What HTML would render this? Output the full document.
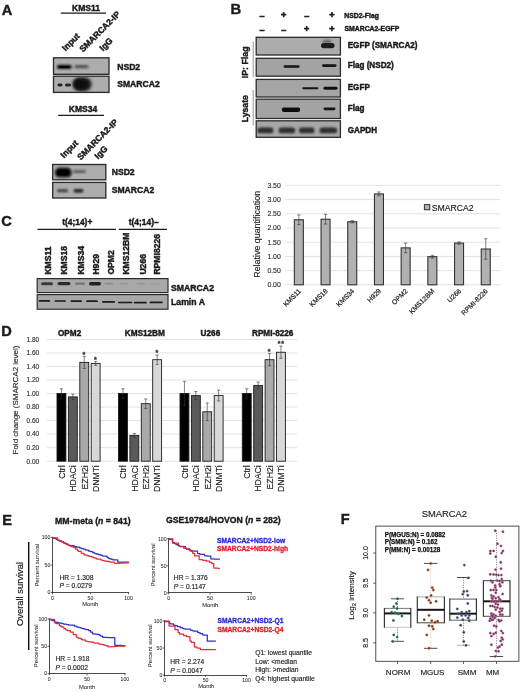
<!DOCTYPE html>
<html lang="en"><head><meta charset="utf-8"><title>Figure</title>
<style>html,body{margin:0;padding:0;background:#fff}svg{display:block;filter:blur(0.35px)}text{font-family:'Liberation Sans', sans-serif}</style></head><body>
<svg width="520" height="692" viewBox="0 0 520 692" font-family='Liberation Sans, sans-serif'>
<defs>
<filter id="b1" x="-30%" y="-100%" width="160%" height="300%"><feGaussianBlur stdDeviation="1.0"/></filter>
<filter id="b2" x="-30%" y="-100%" width="160%" height="300%"><feGaussianBlur stdDeviation="1.6"/></filter>
<filter id="b05" x="-30%" y="-100%" width="160%" height="300%"><feGaussianBlur stdDeviation="0.6"/></filter>
<filter id="soft" x="-5%" y="-5%" width="110%" height="110%"><feGaussianBlur stdDeviation="0.35"/></filter>
<linearGradient id="g1" x1="0" y1="0" x2="1" y2="0"><stop offset="0" stop-color="#b0b0b0"/><stop offset="1" stop-color="#c4c4c4"/></linearGradient>
<linearGradient id="g2" x1="0" y1="0" x2="1" y2="0"><stop offset="0" stop-color="#a8a8a8"/><stop offset="1" stop-color="#bdbdbd"/></linearGradient>
</defs>
<rect x="0.00" y="0.00" width="520.00" height="692.00" fill="#fff" stroke="none" stroke-width="1"/>
<text x="1.80" y="14.53" font-size="14.6" font-weight="bold" text-anchor="start" fill="#1a1a1a" stroke="#1a1a1a" stroke-width="0.42">A</text>
<text x="86.00" y="10.84" font-size="8.5" font-weight="bold" text-anchor="middle" fill="#1a1a1a" stroke="#1a1a1a" stroke-width="0.42">KMS11</text>
<line x1="60.80" y1="13.20" x2="106.00" y2="13.20" stroke="#1a1a1a" stroke-width="1.3"/>
<text x="0.00" y="0.00" font-size="8.6" font-weight="bold" text-anchor="start" fill="#1a1a1a" stroke="#1a1a1a" stroke-width="0.42" transform="translate(65.50 51.50) rotate(-45)">Input</text>
<text x="0.00" y="0.00" font-size="8.6" font-weight="bold" text-anchor="start" fill="#1a1a1a" stroke="#1a1a1a" stroke-width="0.42" transform="translate(83.00 52.50) rotate(-45)">SMARCA2-IP</text>
<text x="0.00" y="0.00" font-size="8.6" font-weight="bold" text-anchor="start" fill="#1a1a1a" stroke="#1a1a1a" stroke-width="0.42" transform="translate(103.00 51.50) rotate(-45)">IgG</text>
<rect x="53.50" y="57.80" width="55.50" height="16.50" fill="#adadad" stroke="#2c2c2c" stroke-width="1.35"/>
<rect x="53.50" y="76.20" width="55.50" height="16.20" fill="#adadad" stroke="#2c2c2c" stroke-width="1.35"/>
<clipPath id="cA1"><rect x="54" y="58.3" width="54.5" height="15.5"/></clipPath><g clip-path="url(#cA1)">
<rect x="56.80" y="64.70" width="15.00" height="4.40" rx="2.20" fill="#141414" opacity="1" filter="url(#b1)"/>
<rect x="59.30" y="65.90" width="10.00" height="2.20" rx="1.10" fill="#000" opacity="0.9" filter="url(#b05)"/>
<rect x="74.50" y="65.10" width="14.00" height="3.20" rx="1.60" fill="#333" opacity="0.75" filter="url(#b1)"/>
</g>
<clipPath id="cA2"><rect x="54" y="76.7" width="54.5" height="15.2"/></clipPath><g clip-path="url(#cA2)">
<rect x="57.50" y="83.60" width="5.00" height="2.80" rx="1.40" fill="#111" opacity="0.85" filter="url(#b05)"/>
<rect x="65.00" y="83.50" width="6.00" height="3.00" rx="1.50" fill="#111" opacity="0.85" filter="url(#b05)"/>
<rect x="72.50" y="77.20" width="19.00" height="14.00" rx="7.00" fill="#1a1a1a" opacity="1" filter="url(#b2)"/>
<rect x="74.00" y="79.20" width="13.00" height="10.00" rx="5.00" fill="#0a0a0a" opacity="1" filter="url(#b1)"/>
</g>
<text x="117.20" y="69.58" font-size="8.6" font-weight="bold" text-anchor="start" fill="#1a1a1a" stroke="#1a1a1a" stroke-width="0.42">NSD2</text>
<text x="117.20" y="87.38" font-size="8.6" font-weight="bold" text-anchor="start" fill="#1a1a1a" stroke="#1a1a1a" stroke-width="0.42">SMARCA2</text>
<text x="83.00" y="112.34" font-size="8.5" font-weight="bold" text-anchor="middle" fill="#1a1a1a" stroke="#1a1a1a" stroke-width="0.42">KMS34</text>
<line x1="58.20" y1="115.40" x2="104.00" y2="115.40" stroke="#1a1a1a" stroke-width="1.3"/>
<text x="0.00" y="0.00" font-size="8.6" font-weight="bold" text-anchor="start" fill="#1a1a1a" stroke="#1a1a1a" stroke-width="0.42" transform="translate(64.00 158.50) rotate(-45)">Input</text>
<text x="0.00" y="0.00" font-size="8.6" font-weight="bold" text-anchor="start" fill="#1a1a1a" stroke="#1a1a1a" stroke-width="0.42" transform="translate(80.70 160.50) rotate(-45)">SMARCA2-IP</text>
<text x="0.00" y="0.00" font-size="8.6" font-weight="bold" text-anchor="start" fill="#1a1a1a" stroke="#1a1a1a" stroke-width="0.42" transform="translate(98.00 159.50) rotate(-45)">IgG</text>
<rect x="52.70" y="164.50" width="53.10" height="15.30" fill="#adadad" stroke="#2c2c2c" stroke-width="1.35"/>
<rect x="52.70" y="182.40" width="53.10" height="15.60" fill="#adadad" stroke="#2c2c2c" stroke-width="1.35"/>
<clipPath id="cA3"><rect x="53.2" y="165" width="52.1" height="14.3"/></clipPath><g clip-path="url(#cA3)">
<rect x="54.80" y="167.60" width="17.00" height="10.00" rx="5.00" fill="#151515" opacity="1" filter="url(#b1)"/>
<rect x="57.00" y="169.60" width="12.00" height="6.00" rx="3.00" fill="#050505" opacity="1" filter="url(#b05)"/>
<rect x="73.00" y="170.20" width="13.00" height="2.80" rx="1.40" fill="#333" opacity="0.7" filter="url(#b1)"/>
</g>
<clipPath id="cA4"><rect x="53.2" y="182.9" width="52.1" height="14.6"/></clipPath><g clip-path="url(#cA4)">
<rect x="57.00" y="189.20" width="11.00" height="3.00" rx="1.50" fill="#222" opacity="0.8" filter="url(#b1)"/>
<rect x="73.50" y="189.00" width="10.00" height="3.40" rx="1.70" fill="#1a1a1a" opacity="0.95" filter="url(#b1)"/>
</g>
<text x="111.70" y="174.98" font-size="8.6" font-weight="bold" text-anchor="start" fill="#1a1a1a" stroke="#1a1a1a" stroke-width="0.42">NSD2</text>
<text x="111.70" y="193.28" font-size="8.6" font-weight="bold" text-anchor="start" fill="#1a1a1a" stroke="#1a1a1a" stroke-width="0.42">SMARCA2</text>
<text x="230.60" y="13.50" font-size="14.8" font-weight="bold" text-anchor="start" fill="#1a1a1a" stroke="#1a1a1a" stroke-width="0.42">B</text>
<text x="261.90" y="19.42" font-size="9" font-weight="bold" text-anchor="middle" fill="#1a1a1a" stroke="#1a1a1a" stroke-width="0.6">–</text>
<text x="283.70" y="18.32" font-size="9" font-weight="bold" text-anchor="middle" fill="#1a1a1a" stroke="#1a1a1a" stroke-width="0.6">+</text>
<text x="306.70" y="19.42" font-size="9" font-weight="bold" text-anchor="middle" fill="#1a1a1a" stroke="#1a1a1a" stroke-width="0.6">–</text>
<text x="332.00" y="18.32" font-size="9" font-weight="bold" text-anchor="middle" fill="#1a1a1a" stroke="#1a1a1a" stroke-width="0.6">+</text>
<text x="261.90" y="32.62" font-size="9" font-weight="bold" text-anchor="middle" fill="#1a1a1a" stroke="#1a1a1a" stroke-width="0.6">–</text>
<text x="283.70" y="32.62" font-size="9" font-weight="bold" text-anchor="middle" fill="#1a1a1a" stroke="#1a1a1a" stroke-width="0.6">–</text>
<text x="306.70" y="31.72" font-size="9" font-weight="bold" text-anchor="middle" fill="#1a1a1a" stroke="#1a1a1a" stroke-width="0.6">+</text>
<text x="332.00" y="31.72" font-size="9" font-weight="bold" text-anchor="middle" fill="#1a1a1a" stroke="#1a1a1a" stroke-width="0.6">+</text>
<text x="344.30" y="18.05" font-size="6.85" font-weight="bold" text-anchor="start" fill="#1a1a1a" stroke="#1a1a1a" stroke-width="0.42">NSD2-Flag</text>
<text x="344.50" y="30.75" font-size="6.85" font-weight="bold" text-anchor="start" fill="#1a1a1a" stroke="#1a1a1a" stroke-width="0.42">SMARCA2-EGFP</text>
<rect x="256.20" y="37.30" width="84.20" height="17.70" fill="#acacac" stroke="#2c2c2c" stroke-width="1.3"/>
<rect x="256.20" y="58.30" width="84.20" height="17.90" fill="#a3a3a3" stroke="#2c2c2c" stroke-width="1.3"/>
<rect x="256.20" y="79.40" width="84.20" height="17.60" fill="#a5a5a5" stroke="#2c2c2c" stroke-width="1.3"/>
<rect x="256.20" y="99.20" width="84.20" height="19.30" fill="#a3a3a3" stroke="#2c2c2c" stroke-width="1.3"/>
<rect x="256.20" y="120.80" width="84.20" height="16.50" fill="#a7a7a7" stroke="#2c2c2c" stroke-width="1.3"/>
<clipPath id="cB"><path d="M256.8 37.9h83v16.5h-83z M256.8 58.9h83v16.7h-83z M256.8 80h83v16.4h-83z M256.8 99.8h83v18.1h-83z M256.8 121.4h83v15.3h-83z"/></clipPath><g clip-path="url(#cB)">
<rect x="321.05" y="43.00" width="13.50" height="5.20" rx="2.60" fill="#1a1a1a" opacity="1" filter="url(#b05)"/>
<rect x="322.50" y="39.75" width="9.00" height="3.50" rx="1.75" fill="#333" opacity="0.55" filter="url(#b1)"/>
<rect x="283.60" y="65.25" width="16.00" height="2.50" rx="1.25" fill="#141414" opacity="1" filter="url(#b05)"/>
<rect x="322.05" y="64.25" width="14.50" height="2.70" rx="1.35" fill="#141414" opacity="1" filter="url(#b05)"/>
<rect x="302.30" y="87.25" width="16.00" height="2.10" rx="1.05" fill="#141414" opacity="1" filter="url(#b05)"/>
<rect x="323.50" y="86.85" width="14.00" height="2.90" rx="1.45" fill="#101010" opacity="1" filter="url(#b05)"/>
<rect x="281.75" y="107.60" width="18.50" height="4.40" rx="2.20" fill="#111" opacity="1" filter="url(#b05)"/>
<rect x="323.50" y="107.40" width="12.00" height="2.80" rx="1.40" fill="#141414" opacity="1" filter="url(#b05)"/>
<rect x="257.40" y="127.50" width="16.00" height="5.80" rx="2.90" fill="#262626" opacity="0.95" filter="url(#b1)"/>
<rect x="278.65" y="127.50" width="16.50" height="5.80" rx="2.90" fill="#262626" opacity="0.95" filter="url(#b1)"/>
<rect x="298.95" y="127.50" width="15.50" height="5.80" rx="2.90" fill="#262626" opacity="0.95" filter="url(#b1)"/>
<rect x="319.55" y="127.50" width="17.50" height="5.80" rx="2.90" fill="#262626" opacity="0.95" filter="url(#b1)"/>
</g>
<text x="347.70" y="47.52" font-size="8.15" font-weight="bold" text-anchor="start" fill="#1a1a1a" stroke="#1a1a1a" stroke-width="0.42">EGFP (SMARCA2)</text>
<text x="347.70" y="68.12" font-size="8.15" font-weight="bold" text-anchor="start" fill="#1a1a1a" stroke="#1a1a1a" stroke-width="0.42">Flag (NSD2)</text>
<text x="347.70" y="90.02" font-size="8.15" font-weight="bold" text-anchor="start" fill="#1a1a1a" stroke="#1a1a1a" stroke-width="0.42">EGFP</text>
<text x="347.70" y="110.92" font-size="8.15" font-weight="bold" text-anchor="start" fill="#1a1a1a" stroke="#1a1a1a" stroke-width="0.42">Flag</text>
<text x="347.70" y="132.92" font-size="8.15" font-weight="bold" text-anchor="start" fill="#1a1a1a" stroke="#1a1a1a" stroke-width="0.42">GAPDH</text>
<text x="0.00" y="3.15" font-size="8.8" font-weight="bold" text-anchor="middle" fill="#1a1a1a" stroke="#1a1a1a" stroke-width="0.42" transform="translate(245.20 62.30) rotate(-90)">IP: Flag</text>
<text x="0.00" y="3.11" font-size="8.7" font-weight="bold" text-anchor="middle" fill="#1a1a1a" stroke="#1a1a1a" stroke-width="0.42" transform="translate(245.20 108.70) rotate(-90)">Lysate</text>
<line x1="253.20" y1="41.50" x2="253.20" y2="76.90" stroke="#777" stroke-width="0.8"/>
<line x1="253.20" y1="90.00" x2="253.20" y2="125.40" stroke="#777" stroke-width="0.8"/>
<line x1="285.50" y1="284.80" x2="500.00" y2="284.80" stroke="#d4d4d4" stroke-width="0.7"/>
<text x="280.80" y="287.27" font-size="6.9" font-weight="normal" text-anchor="end" fill="#333" stroke="#333" stroke-width="0.15">0.00</text>
<line x1="285.50" y1="270.60" x2="500.00" y2="270.60" stroke="#d4d4d4" stroke-width="0.7"/>
<text x="280.80" y="273.07" font-size="6.9" font-weight="normal" text-anchor="end" fill="#333" stroke="#333" stroke-width="0.15">0.50</text>
<line x1="285.50" y1="256.40" x2="500.00" y2="256.40" stroke="#d4d4d4" stroke-width="0.7"/>
<text x="280.80" y="258.87" font-size="6.9" font-weight="normal" text-anchor="end" fill="#333" stroke="#333" stroke-width="0.15">1.00</text>
<line x1="285.50" y1="242.20" x2="500.00" y2="242.20" stroke="#d4d4d4" stroke-width="0.7"/>
<text x="280.80" y="244.67" font-size="6.9" font-weight="normal" text-anchor="end" fill="#333" stroke="#333" stroke-width="0.15">1.50</text>
<line x1="285.50" y1="228.00" x2="500.00" y2="228.00" stroke="#d4d4d4" stroke-width="0.7"/>
<text x="280.80" y="230.47" font-size="6.9" font-weight="normal" text-anchor="end" fill="#333" stroke="#333" stroke-width="0.15">2.00</text>
<line x1="285.50" y1="213.80" x2="500.00" y2="213.80" stroke="#d4d4d4" stroke-width="0.7"/>
<text x="280.80" y="216.27" font-size="6.9" font-weight="normal" text-anchor="end" fill="#333" stroke="#333" stroke-width="0.15">2.50</text>
<line x1="285.50" y1="199.60" x2="500.00" y2="199.60" stroke="#d4d4d4" stroke-width="0.7"/>
<text x="280.80" y="202.07" font-size="6.9" font-weight="normal" text-anchor="end" fill="#333" stroke="#333" stroke-width="0.15">3.00</text>
<line x1="285.50" y1="185.40" x2="500.00" y2="185.40" stroke="#d4d4d4" stroke-width="0.7"/>
<text x="280.80" y="187.87" font-size="6.9" font-weight="normal" text-anchor="end" fill="#333" stroke="#333" stroke-width="0.15">3.50</text>
<text x="0.00" y="3.19" font-size="8.9" font-weight="normal" text-anchor="middle" fill="#222" stroke="#222" stroke-width="0.15" transform="translate(257.00 234.30) rotate(-90)">Relative quantification</text>
<rect x="294.35" y="219.76" width="9.00" height="65.04" fill="#b1b1b1" stroke="#333" stroke-width="1.1"/>
<line x1="298.85" y1="214.94" x2="298.85" y2="224.59" stroke="#333" stroke-width="0.6"/>
<line x1="297.15" y1="214.94" x2="300.55" y2="214.94" stroke="#333" stroke-width="0.6"/>
<line x1="297.15" y1="224.59" x2="300.55" y2="224.59" stroke="#333" stroke-width="0.6"/>
<text x="0.00" y="2.43" font-size="6.8" font-weight="normal" text-anchor="end" fill="#222" stroke="#222" stroke-width="0.2" transform="translate(299.65 289.80) rotate(-45)">KMS11</text>
<rect x="321.05" y="219.20" width="9.00" height="65.60" fill="#b1b1b1" stroke="#333" stroke-width="1.1"/>
<line x1="325.55" y1="214.37" x2="325.55" y2="224.02" stroke="#333" stroke-width="0.6"/>
<line x1="323.85" y1="214.37" x2="327.25" y2="214.37" stroke="#333" stroke-width="0.6"/>
<line x1="323.85" y1="224.02" x2="327.25" y2="224.02" stroke="#333" stroke-width="0.6"/>
<text x="0.00" y="2.43" font-size="6.8" font-weight="normal" text-anchor="end" fill="#222" stroke="#222" stroke-width="0.2" transform="translate(326.35 289.80) rotate(-45)">KMS18</text>
<rect x="347.75" y="221.75" width="9.00" height="63.05" fill="#b1b1b1" stroke="#333" stroke-width="1.1"/>
<line x1="352.25" y1="220.62" x2="352.25" y2="222.89" stroke="#333" stroke-width="0.6"/>
<line x1="350.55" y1="220.62" x2="353.95" y2="220.62" stroke="#333" stroke-width="0.6"/>
<line x1="350.55" y1="222.89" x2="353.95" y2="222.89" stroke="#333" stroke-width="0.6"/>
<text x="0.00" y="2.43" font-size="6.8" font-weight="normal" text-anchor="end" fill="#222" stroke="#222" stroke-width="0.2" transform="translate(353.05 289.80) rotate(-45)">KMS34</text>
<rect x="374.45" y="193.92" width="9.00" height="90.88" fill="#b1b1b1" stroke="#333" stroke-width="1.1"/>
<line x1="378.95" y1="191.93" x2="378.95" y2="195.91" stroke="#333" stroke-width="0.6"/>
<line x1="377.25" y1="191.93" x2="380.65" y2="191.93" stroke="#333" stroke-width="0.6"/>
<line x1="377.25" y1="195.91" x2="380.65" y2="195.91" stroke="#333" stroke-width="0.6"/>
<text x="0.00" y="2.43" font-size="6.8" font-weight="normal" text-anchor="end" fill="#222" stroke="#222" stroke-width="0.2" transform="translate(379.75 289.80) rotate(-45)">H929</text>
<rect x="401.15" y="247.88" width="9.00" height="36.92" fill="#b1b1b1" stroke="#333" stroke-width="1.1"/>
<line x1="405.65" y1="243.05" x2="405.65" y2="252.71" stroke="#333" stroke-width="0.6"/>
<line x1="403.95" y1="243.05" x2="407.35" y2="243.05" stroke="#333" stroke-width="0.6"/>
<line x1="403.95" y1="252.71" x2="407.35" y2="252.71" stroke="#333" stroke-width="0.6"/>
<text x="0.00" y="2.43" font-size="6.8" font-weight="normal" text-anchor="end" fill="#222" stroke="#222" stroke-width="0.2" transform="translate(406.45 289.80) rotate(-45)">OPM2</text>
<rect x="427.85" y="256.68" width="9.00" height="28.12" fill="#b1b1b1" stroke="#333" stroke-width="1.1"/>
<line x1="432.35" y1="255.26" x2="432.35" y2="258.10" stroke="#333" stroke-width="0.6"/>
<line x1="430.65" y1="255.26" x2="434.05" y2="255.26" stroke="#333" stroke-width="0.6"/>
<line x1="430.65" y1="258.10" x2="434.05" y2="258.10" stroke="#333" stroke-width="0.6"/>
<text x="0.00" y="2.43" font-size="6.8" font-weight="normal" text-anchor="end" fill="#222" stroke="#222" stroke-width="0.2" transform="translate(433.15 289.80) rotate(-45)">KMS12BM</text>
<rect x="454.55" y="243.05" width="9.00" height="41.75" fill="#b1b1b1" stroke="#333" stroke-width="1.1"/>
<line x1="459.05" y1="241.92" x2="459.05" y2="244.19" stroke="#333" stroke-width="0.6"/>
<line x1="457.35" y1="241.92" x2="460.75" y2="241.92" stroke="#333" stroke-width="0.6"/>
<line x1="457.35" y1="244.19" x2="460.75" y2="244.19" stroke="#333" stroke-width="0.6"/>
<text x="0.00" y="2.43" font-size="6.8" font-weight="normal" text-anchor="end" fill="#222" stroke="#222" stroke-width="0.2" transform="translate(459.85 289.80) rotate(-45)">U266</text>
<rect x="481.25" y="249.02" width="9.00" height="35.78" fill="#b1b1b1" stroke="#333" stroke-width="1.1"/>
<line x1="485.75" y1="238.79" x2="485.75" y2="259.24" stroke="#333" stroke-width="0.6"/>
<line x1="484.05" y1="238.79" x2="487.45" y2="238.79" stroke="#333" stroke-width="0.6"/>
<line x1="484.05" y1="259.24" x2="487.45" y2="259.24" stroke="#333" stroke-width="0.6"/>
<text x="0.00" y="2.43" font-size="6.8" font-weight="normal" text-anchor="end" fill="#222" stroke="#222" stroke-width="0.2" transform="translate(486.55 289.80) rotate(-45)">RPMI-8226</text>
<rect x="424.40" y="204.60" width="5.40" height="5.20" fill="#b1b1b1" stroke="#333" stroke-width="1.0"/>
<text x="431.70" y="210.71" font-size="8.7" font-weight="normal" text-anchor="start" fill="#222" stroke="#222" stroke-width="0.15">SMARCA2</text>
<text x="1.30" y="226.03" font-size="14.6" font-weight="bold" text-anchor="start" fill="#1a1a1a" stroke="#1a1a1a" stroke-width="0.42">C</text>
<text x="77.30" y="225.01" font-size="8.4" font-weight="bold" text-anchor="middle" fill="#1a1a1a" stroke="#1a1a1a" stroke-width="0.42">t(4;14)+</text>
<text x="143.70" y="225.01" font-size="8.4" font-weight="bold" text-anchor="middle" fill="#1a1a1a" stroke="#1a1a1a" stroke-width="0.42">t(4;14)–</text>
<line x1="37.50" y1="229.30" x2="116.00" y2="229.30" stroke="#1a1a1a" stroke-width="1.25"/>
<line x1="118.70" y1="229.30" x2="167.00" y2="229.30" stroke="#1a1a1a" stroke-width="1.25"/>
<text x="0.00" y="3.08" font-size="8.6" font-weight="bold" text-anchor="start" fill="#1a1a1a" stroke="#1a1a1a" stroke-width="0.42" transform="translate(48.00 274.60) rotate(-90)">KMS11</text>
<text x="0.00" y="3.08" font-size="8.6" font-weight="bold" text-anchor="start" fill="#1a1a1a" stroke="#1a1a1a" stroke-width="0.42" transform="translate(64.00 274.60) rotate(-90)">KMS18</text>
<text x="0.00" y="3.08" font-size="8.6" font-weight="bold" text-anchor="start" fill="#1a1a1a" stroke="#1a1a1a" stroke-width="0.42" transform="translate(80.50 274.60) rotate(-90)">KMS34</text>
<text x="0.00" y="3.08" font-size="8.6" font-weight="bold" text-anchor="start" fill="#1a1a1a" stroke="#1a1a1a" stroke-width="0.42" transform="translate(96.00 274.60) rotate(-90)">H929</text>
<text x="0.00" y="3.08" font-size="8.6" font-weight="bold" text-anchor="start" fill="#1a1a1a" stroke="#1a1a1a" stroke-width="0.42" transform="translate(111.00 274.60) rotate(-90)">OPM2</text>
<text x="0.00" y="3.08" font-size="8.6" font-weight="bold" text-anchor="start" fill="#1a1a1a" stroke="#1a1a1a" stroke-width="0.42" transform="translate(126.00 274.60) rotate(-90)">KMS12BM</text>
<text x="0.00" y="3.08" font-size="8.6" font-weight="bold" text-anchor="start" fill="#1a1a1a" stroke="#1a1a1a" stroke-width="0.42" transform="translate(143.00 274.60) rotate(-90)">U266</text>
<text x="0.00" y="3.08" font-size="8.6" font-weight="bold" text-anchor="start" fill="#1a1a1a" stroke="#1a1a1a" stroke-width="0.42" transform="translate(157.00 274.60) rotate(-90)">RPMI8226</text>
<rect x="37.20" y="278.60" width="130.80" height="14.00" fill="#a8a8a8" stroke="#2c2c2c" stroke-width="1.2"/>
<rect x="37.20" y="294.60" width="130.80" height="14.60" fill="#a8a8a8" stroke="#2c2c2c" stroke-width="1.2"/>
<clipPath id="cC"><path d="M37.8 279.2h129.6v12.8h-129.6z M37.8 295.2h129.6v13.4h-129.6z"/></clipPath><g clip-path="url(#cC)">
<rect x="41.00" y="282.20" width="12.00" height="3.00" rx="1.50" fill="#181818" opacity="0.75" filter="url(#b05)"/>
<rect x="57.50" y="282.05" width="13.00" height="3.30" rx="1.65" fill="#181818" opacity="0.85" filter="url(#b05)"/>
<rect x="75.00" y="282.60" width="10.00" height="2.20" rx="1.10" fill="#181818" opacity="0.35" filter="url(#b05)"/>
<rect x="89.00" y="281.90" width="12.00" height="3.60" rx="1.80" fill="#181818" opacity="0.92" filter="url(#b05)"/>
<rect x="104.50" y="282.80" width="9.00" height="1.80" rx="0.90" fill="#181818" opacity="0.18" filter="url(#b05)"/>
<rect x="119.50" y="282.90" width="9.00" height="1.60" rx="0.80" fill="#181818" opacity="0.12" filter="url(#b05)"/>
<rect x="136.50" y="282.90" width="9.00" height="1.60" rx="0.80" fill="#181818" opacity="0.12" filter="url(#b05)"/>
<rect x="150.50" y="282.90" width="9.00" height="1.60" rx="0.80" fill="#181818" opacity="0.08" filter="url(#b05)"/>
<rect x="38.70" y="300.05" width="11.50" height="1.70" rx="0.85" fill="#141414" opacity="0.95" filter="url(#b05)"/>
<rect x="54.50" y="300.15" width="11.50" height="1.70" rx="0.85" fill="#141414" opacity="0.95" filter="url(#b05)"/>
<rect x="70.40" y="300.25" width="11.60" height="1.70" rx="0.85" fill="#141414" opacity="0.95" filter="url(#b05)"/>
<rect x="86.20" y="300.35" width="11.60" height="1.70" rx="0.85" fill="#141414" opacity="0.95" filter="url(#b05)"/>
<rect x="102.00" y="301.05" width="13.00" height="1.70" rx="0.85" fill="#141414" opacity="0.95" filter="url(#b05)"/>
<rect x="118.00" y="301.65" width="14.40" height="1.70" rx="0.85" fill="#141414" opacity="0.95" filter="url(#b05)"/>
<rect x="133.80" y="301.75" width="13.00" height="1.70" rx="0.85" fill="#141414" opacity="0.95" filter="url(#b05)"/>
<rect x="149.70" y="301.55" width="13.00" height="1.70" rx="0.85" fill="#141414" opacity="0.95" filter="url(#b05)"/>
</g>
<text x="171.00" y="290.61" font-size="8.7" font-weight="bold" text-anchor="start" fill="#1a1a1a" stroke="#1a1a1a" stroke-width="0.42">SMARCA2</text>
<text x="171.00" y="305.11" font-size="8.7" font-weight="bold" text-anchor="start" fill="#1a1a1a" stroke="#1a1a1a" stroke-width="0.42">Lamin A</text>
<text x="1.30" y="336.43" font-size="14.6" font-weight="bold" text-anchor="start" fill="#1a1a1a" stroke="#1a1a1a" stroke-width="0.42">D</text>
<line x1="47.00" y1="461.20" x2="297.00" y2="461.20" stroke="#d4d4d4" stroke-width="0.7"/>
<text x="39.20" y="463.53" font-size="6.5" font-weight="normal" text-anchor="end" fill="#333" stroke="#333" stroke-width="0.15">0.00</text>
<line x1="47.00" y1="447.67" x2="297.00" y2="447.67" stroke="#d4d4d4" stroke-width="0.7"/>
<text x="39.20" y="449.99" font-size="6.5" font-weight="normal" text-anchor="end" fill="#333" stroke="#333" stroke-width="0.15">0.20</text>
<line x1="47.00" y1="434.13" x2="297.00" y2="434.13" stroke="#d4d4d4" stroke-width="0.7"/>
<text x="39.20" y="436.46" font-size="6.5" font-weight="normal" text-anchor="end" fill="#333" stroke="#333" stroke-width="0.15">0.40</text>
<line x1="47.00" y1="420.60" x2="297.00" y2="420.60" stroke="#d4d4d4" stroke-width="0.7"/>
<text x="39.20" y="422.93" font-size="6.5" font-weight="normal" text-anchor="end" fill="#333" stroke="#333" stroke-width="0.15">0.60</text>
<line x1="47.00" y1="407.07" x2="297.00" y2="407.07" stroke="#d4d4d4" stroke-width="0.7"/>
<text x="39.20" y="409.39" font-size="6.5" font-weight="normal" text-anchor="end" fill="#333" stroke="#333" stroke-width="0.15">0.80</text>
<line x1="47.00" y1="393.53" x2="297.00" y2="393.53" stroke="#d4d4d4" stroke-width="0.7"/>
<text x="39.20" y="395.86" font-size="6.5" font-weight="normal" text-anchor="end" fill="#333" stroke="#333" stroke-width="0.15">1.00</text>
<line x1="47.00" y1="380.00" x2="297.00" y2="380.00" stroke="#d4d4d4" stroke-width="0.7"/>
<text x="39.20" y="382.33" font-size="6.5" font-weight="normal" text-anchor="end" fill="#333" stroke="#333" stroke-width="0.15">1.20</text>
<line x1="47.00" y1="366.47" x2="297.00" y2="366.47" stroke="#d4d4d4" stroke-width="0.7"/>
<text x="39.20" y="368.79" font-size="6.5" font-weight="normal" text-anchor="end" fill="#333" stroke="#333" stroke-width="0.15">1.40</text>
<line x1="47.00" y1="352.93" x2="297.00" y2="352.93" stroke="#d4d4d4" stroke-width="0.7"/>
<text x="39.20" y="355.26" font-size="6.5" font-weight="normal" text-anchor="end" fill="#333" stroke="#333" stroke-width="0.15">1.60</text>
<line x1="47.00" y1="339.40" x2="297.00" y2="339.40" stroke="#d4d4d4" stroke-width="0.7"/>
<text x="39.20" y="341.73" font-size="6.5" font-weight="normal" text-anchor="end" fill="#333" stroke="#333" stroke-width="0.15">1.80</text>
<text x="0.00" y="2.86" font-size="8.0" font-weight="normal" text-anchor="middle" fill="#2a2a2a" stroke="#2a2a2a" stroke-width="0.15" transform="translate(15.20 400.00) rotate(-90)">Fold change (SMARCA2 level)</text>
<text x="69.60" y="336.24" font-size="8.2" font-weight="bold" text-anchor="middle" fill="#1a1a1a" stroke="#1a1a1a" stroke-width="0.42">OPM2</text>
<rect x="57.00" y="393.53" width="8.90" height="67.67" fill="#000" stroke="#1c1c1c" stroke-width="0.9"/>
<line x1="61.45" y1="388.80" x2="61.45" y2="398.27" stroke="#333" stroke-width="0.6"/>
<line x1="59.85" y1="388.80" x2="63.05" y2="388.80" stroke="#333" stroke-width="0.6"/>
<line x1="59.85" y1="398.27" x2="63.05" y2="398.27" stroke="#333" stroke-width="0.6"/>
<text x="0.00" y="3.11" font-size="8.7" font-weight="normal" text-anchor="end" fill="#222" stroke="#222" stroke-width="0.15" transform="translate(61.65 465.30) rotate(-90)">Ctrl</text>
<rect x="68.40" y="396.92" width="8.90" height="64.28" fill="#5a5a5a" stroke="#1c1c1c" stroke-width="0.9"/>
<line x1="72.85" y1="394.21" x2="72.85" y2="399.62" stroke="#333" stroke-width="0.6"/>
<line x1="71.25" y1="394.21" x2="74.45" y2="394.21" stroke="#333" stroke-width="0.6"/>
<line x1="71.25" y1="399.62" x2="74.45" y2="399.62" stroke="#333" stroke-width="0.6"/>
<text x="0.00" y="3.11" font-size="8.7" font-weight="normal" text-anchor="end" fill="#222" stroke="#222" stroke-width="0.15" transform="translate(73.05 465.30) rotate(-90)">HDACi</text>
<rect x="79.80" y="362.41" width="8.90" height="98.79" fill="#a9a9a9" stroke="#1c1c1c" stroke-width="0.9"/>
<line x1="84.25" y1="356.32" x2="84.25" y2="368.50" stroke="#333" stroke-width="0.6"/>
<line x1="82.65" y1="356.32" x2="85.85" y2="356.32" stroke="#333" stroke-width="0.6"/>
<line x1="82.65" y1="368.50" x2="85.85" y2="368.50" stroke="#333" stroke-width="0.6"/>
<text x="84.25" y="356.52" font-size="7" font-weight="bold" text-anchor="middle" fill="#333" stroke="#333" stroke-width="0.3" letter-spacing="0.7">*</text>
<text x="0.00" y="3.11" font-size="8.7" font-weight="normal" text-anchor="end" fill="#222" stroke="#222" stroke-width="0.15" transform="translate(84.45 465.30) rotate(-90)">EZH2i</text>
<rect x="91.20" y="363.42" width="8.90" height="97.78" fill="#d8d8d8" stroke="#1c1c1c" stroke-width="0.9"/>
<line x1="95.65" y1="361.39" x2="95.65" y2="365.45" stroke="#333" stroke-width="0.6"/>
<line x1="94.05" y1="361.39" x2="97.25" y2="361.39" stroke="#333" stroke-width="0.6"/>
<line x1="94.05" y1="365.45" x2="97.25" y2="365.45" stroke="#333" stroke-width="0.6"/>
<text x="95.65" y="361.60" font-size="7" font-weight="bold" text-anchor="middle" fill="#333" stroke="#333" stroke-width="0.3" letter-spacing="0.7">*</text>
<text x="0.00" y="3.11" font-size="8.7" font-weight="normal" text-anchor="end" fill="#222" stroke="#222" stroke-width="0.15" transform="translate(95.85 465.30) rotate(-90)">DNMTi</text>
<text x="144.80" y="336.24" font-size="8.2" font-weight="bold" text-anchor="middle" fill="#1a1a1a" stroke="#1a1a1a" stroke-width="0.42">KMS12BM</text>
<rect x="118.50" y="393.53" width="8.90" height="67.67" fill="#000" stroke="#1c1c1c" stroke-width="0.9"/>
<line x1="122.95" y1="388.80" x2="122.95" y2="398.27" stroke="#333" stroke-width="0.6"/>
<line x1="121.35" y1="388.80" x2="124.55" y2="388.80" stroke="#333" stroke-width="0.6"/>
<line x1="121.35" y1="398.27" x2="124.55" y2="398.27" stroke="#333" stroke-width="0.6"/>
<text x="0.00" y="3.11" font-size="8.7" font-weight="normal" text-anchor="end" fill="#222" stroke="#222" stroke-width="0.15" transform="translate(123.15 465.30) rotate(-90)">Ctrl</text>
<rect x="129.90" y="435.49" width="8.90" height="25.71" fill="#5a5a5a" stroke="#1c1c1c" stroke-width="0.9"/>
<line x1="134.35" y1="433.46" x2="134.35" y2="437.52" stroke="#333" stroke-width="0.6"/>
<line x1="132.75" y1="433.46" x2="135.95" y2="433.46" stroke="#333" stroke-width="0.6"/>
<line x1="132.75" y1="437.52" x2="135.95" y2="437.52" stroke="#333" stroke-width="0.6"/>
<text x="0.00" y="3.11" font-size="8.7" font-weight="normal" text-anchor="end" fill="#222" stroke="#222" stroke-width="0.15" transform="translate(134.55 465.30) rotate(-90)">HDACi</text>
<rect x="141.30" y="403.68" width="8.90" height="57.52" fill="#a9a9a9" stroke="#1c1c1c" stroke-width="0.9"/>
<line x1="145.75" y1="398.95" x2="145.75" y2="408.42" stroke="#333" stroke-width="0.6"/>
<line x1="144.15" y1="398.95" x2="147.35" y2="398.95" stroke="#333" stroke-width="0.6"/>
<line x1="144.15" y1="408.42" x2="147.35" y2="408.42" stroke="#333" stroke-width="0.6"/>
<text x="0.00" y="3.11" font-size="8.7" font-weight="normal" text-anchor="end" fill="#222" stroke="#222" stroke-width="0.15" transform="translate(145.95 465.30) rotate(-90)">EZH2i</text>
<rect x="152.70" y="359.70" width="8.90" height="101.50" fill="#d8d8d8" stroke="#1c1c1c" stroke-width="0.9"/>
<line x1="157.15" y1="354.96" x2="157.15" y2="364.44" stroke="#333" stroke-width="0.6"/>
<line x1="155.55" y1="354.96" x2="158.75" y2="354.96" stroke="#333" stroke-width="0.6"/>
<line x1="155.55" y1="364.44" x2="158.75" y2="364.44" stroke="#333" stroke-width="0.6"/>
<text x="157.15" y="355.17" font-size="7" font-weight="bold" text-anchor="middle" fill="#333" stroke="#333" stroke-width="0.3" letter-spacing="0.7">*</text>
<text x="0.00" y="3.11" font-size="8.7" font-weight="normal" text-anchor="end" fill="#222" stroke="#222" stroke-width="0.15" transform="translate(157.35 465.30) rotate(-90)">DNMTi</text>
<text x="210.40" y="336.24" font-size="8.2" font-weight="bold" text-anchor="middle" fill="#1a1a1a" stroke="#1a1a1a" stroke-width="0.42">U266</text>
<rect x="180.00" y="393.53" width="8.90" height="67.67" fill="#000" stroke="#1c1c1c" stroke-width="0.9"/>
<line x1="184.45" y1="381.35" x2="184.45" y2="405.71" stroke="#333" stroke-width="0.6"/>
<line x1="182.85" y1="381.35" x2="186.05" y2="381.35" stroke="#333" stroke-width="0.6"/>
<line x1="182.85" y1="405.71" x2="186.05" y2="405.71" stroke="#333" stroke-width="0.6"/>
<text x="0.00" y="3.11" font-size="8.7" font-weight="normal" text-anchor="end" fill="#222" stroke="#222" stroke-width="0.15" transform="translate(184.65 465.30) rotate(-90)">Ctrl</text>
<rect x="191.40" y="395.56" width="8.90" height="65.64" fill="#5a5a5a" stroke="#1c1c1c" stroke-width="0.9"/>
<line x1="195.85" y1="391.50" x2="195.85" y2="399.62" stroke="#333" stroke-width="0.6"/>
<line x1="194.25" y1="391.50" x2="197.45" y2="391.50" stroke="#333" stroke-width="0.6"/>
<line x1="194.25" y1="399.62" x2="197.45" y2="399.62" stroke="#333" stroke-width="0.6"/>
<text x="0.00" y="3.11" font-size="8.7" font-weight="normal" text-anchor="end" fill="#222" stroke="#222" stroke-width="0.15" transform="translate(196.05 465.30) rotate(-90)">HDACi</text>
<rect x="202.80" y="411.80" width="8.90" height="49.40" fill="#a9a9a9" stroke="#1c1c1c" stroke-width="0.9"/>
<line x1="207.25" y1="403.01" x2="207.25" y2="420.60" stroke="#333" stroke-width="0.6"/>
<line x1="205.65" y1="403.01" x2="208.85" y2="403.01" stroke="#333" stroke-width="0.6"/>
<line x1="205.65" y1="420.60" x2="208.85" y2="420.60" stroke="#333" stroke-width="0.6"/>
<text x="0.00" y="3.11" font-size="8.7" font-weight="normal" text-anchor="end" fill="#222" stroke="#222" stroke-width="0.15" transform="translate(207.45 465.30) rotate(-90)">EZH2i</text>
<rect x="214.20" y="395.56" width="8.90" height="65.64" fill="#d8d8d8" stroke="#1c1c1c" stroke-width="0.9"/>
<line x1="218.65" y1="390.15" x2="218.65" y2="400.98" stroke="#333" stroke-width="0.6"/>
<line x1="217.05" y1="390.15" x2="220.25" y2="390.15" stroke="#333" stroke-width="0.6"/>
<line x1="217.05" y1="400.98" x2="220.25" y2="400.98" stroke="#333" stroke-width="0.6"/>
<text x="0.00" y="3.11" font-size="8.7" font-weight="normal" text-anchor="end" fill="#222" stroke="#222" stroke-width="0.15" transform="translate(218.85 465.30) rotate(-90)">DNMTi</text>
<text x="272.70" y="336.24" font-size="8.2" font-weight="bold" text-anchor="middle" fill="#1a1a1a" stroke="#1a1a1a" stroke-width="0.42">RPMI-8226</text>
<rect x="242.30" y="393.53" width="8.90" height="67.67" fill="#000" stroke="#1c1c1c" stroke-width="0.9"/>
<line x1="246.75" y1="388.80" x2="246.75" y2="398.27" stroke="#333" stroke-width="0.6"/>
<line x1="245.15" y1="388.80" x2="248.35" y2="388.80" stroke="#333" stroke-width="0.6"/>
<line x1="245.15" y1="398.27" x2="248.35" y2="398.27" stroke="#333" stroke-width="0.6"/>
<text x="0.00" y="3.11" font-size="8.7" font-weight="normal" text-anchor="end" fill="#222" stroke="#222" stroke-width="0.15" transform="translate(246.95 465.30) rotate(-90)">Ctrl</text>
<rect x="253.70" y="385.41" width="8.90" height="75.79" fill="#5a5a5a" stroke="#1c1c1c" stroke-width="0.9"/>
<line x1="258.15" y1="382.03" x2="258.15" y2="388.80" stroke="#333" stroke-width="0.6"/>
<line x1="256.55" y1="382.03" x2="259.75" y2="382.03" stroke="#333" stroke-width="0.6"/>
<line x1="256.55" y1="388.80" x2="259.75" y2="388.80" stroke="#333" stroke-width="0.6"/>
<text x="0.00" y="3.11" font-size="8.7" font-weight="normal" text-anchor="end" fill="#222" stroke="#222" stroke-width="0.15" transform="translate(258.35 465.30) rotate(-90)">HDACi</text>
<rect x="265.10" y="359.70" width="8.90" height="101.50" fill="#a9a9a9" stroke="#1c1c1c" stroke-width="0.9"/>
<line x1="269.55" y1="353.61" x2="269.55" y2="365.79" stroke="#333" stroke-width="0.6"/>
<line x1="267.95" y1="353.61" x2="271.15" y2="353.61" stroke="#333" stroke-width="0.6"/>
<line x1="267.95" y1="365.79" x2="271.15" y2="365.79" stroke="#333" stroke-width="0.6"/>
<text x="269.55" y="353.82" font-size="7" font-weight="bold" text-anchor="middle" fill="#333" stroke="#333" stroke-width="0.3" letter-spacing="0.7">*</text>
<text x="0.00" y="3.11" font-size="8.7" font-weight="normal" text-anchor="end" fill="#222" stroke="#222" stroke-width="0.15" transform="translate(269.75 465.30) rotate(-90)">EZH2i</text>
<rect x="276.50" y="352.26" width="8.90" height="108.94" fill="#d8d8d8" stroke="#1c1c1c" stroke-width="0.9"/>
<line x1="280.95" y1="346.17" x2="280.95" y2="358.35" stroke="#333" stroke-width="0.6"/>
<line x1="279.35" y1="346.17" x2="282.55" y2="346.17" stroke="#333" stroke-width="0.6"/>
<line x1="279.35" y1="358.35" x2="282.55" y2="358.35" stroke="#333" stroke-width="0.6"/>
<text x="281.25" y="346.37" font-size="7" font-weight="bold" text-anchor="middle" fill="#333" stroke="#333" stroke-width="0.3" letter-spacing="0.7">**</text>
<text x="0.00" y="3.11" font-size="8.7" font-weight="normal" text-anchor="end" fill="#222" stroke="#222" stroke-width="0.15" transform="translate(281.15 465.30) rotate(-90)">DNMTi</text>
<text x="2.20" y="524.83" font-size="14.6" font-weight="bold" text-anchor="start" fill="#1a1a1a" stroke="#1a1a1a" stroke-width="0.42">E</text>
<text x="92.9" y="524.1" font-size="8.7" font-weight="bold" text-anchor="middle" fill="#1a1a1a" stroke="#1a1a1a" stroke-width="0.35">MM-meta (<tspan font-style="italic">n</tspan> = 841)</text>
<text x="223.3" y="523.3" font-size="8.7" font-weight="bold" text-anchor="middle" fill="#1a1a1a" stroke="#1a1a1a" stroke-width="0.35">GSE19784/HOVON (<tspan font-style="italic">n</tspan> = 282)</text>
<rect x="28.00" y="542.00" width="1.40" height="108.00" fill="#111" stroke="none" stroke-width="1"/>
<text x="0.00" y="3.37" font-size="9.4" font-weight="normal" text-anchor="middle" fill="#111" stroke="#111" stroke-width="0.15" transform="translate(19.60 594.00) rotate(-90)">Overall survival</text>
<line x1="52.50" y1="536.70" x2="52.50" y2="592.90" stroke="#2a2a2a" stroke-width="0.85"/>
<line x1="52.10" y1="592.50" x2="129.10" y2="592.50" stroke="#2a2a2a" stroke-width="0.85"/>
<line x1="50.70" y1="537.50" x2="52.50" y2="537.50" stroke="#2a2a2a" stroke-width="0.7"/>
<text x="50.30" y="539.36" font-size="5.2" font-weight="normal" text-anchor="end" fill="#2a2a2a" stroke="#2a2a2a" stroke-width="0.05">100</text>
<line x1="50.70" y1="565.00" x2="52.50" y2="565.00" stroke="#2a2a2a" stroke-width="0.7"/>
<text x="50.30" y="566.86" font-size="5.2" font-weight="normal" text-anchor="end" fill="#2a2a2a" stroke="#2a2a2a" stroke-width="0.05">50</text>
<line x1="50.70" y1="592.50" x2="52.50" y2="592.50" stroke="#2a2a2a" stroke-width="0.7"/>
<text x="50.30" y="594.36" font-size="5.2" font-weight="normal" text-anchor="end" fill="#2a2a2a" stroke="#2a2a2a" stroke-width="0.05">0</text>
<line x1="52.50" y1="592.50" x2="52.50" y2="594.30" stroke="#2a2a2a" stroke-width="0.7"/>
<text x="52.50" y="600.36" font-size="5.2" font-weight="normal" text-anchor="middle" fill="#2a2a2a" stroke="#2a2a2a" stroke-width="0.05">0</text>
<line x1="90.50" y1="592.50" x2="90.50" y2="594.30" stroke="#2a2a2a" stroke-width="0.7"/>
<text x="90.50" y="600.36" font-size="5.2" font-weight="normal" text-anchor="middle" fill="#2a2a2a" stroke="#2a2a2a" stroke-width="0.05">50</text>
<line x1="128.50" y1="592.50" x2="128.50" y2="594.30" stroke="#2a2a2a" stroke-width="0.7"/>
<text x="128.50" y="600.36" font-size="5.2" font-weight="normal" text-anchor="middle" fill="#2a2a2a" stroke="#2a2a2a" stroke-width="0.05">100</text>
<text x="90.30" y="605.78" font-size="5.8" font-weight="normal" text-anchor="middle" fill="#2a2a2a" stroke="#2a2a2a" stroke-width="0.05">Month</text>
<text x="0.00" y="2.15" font-size="6.0" font-weight="normal" text-anchor="middle" fill="#2a2a2a" stroke="#2a2a2a" stroke-width="0.05" transform="translate(37.00 565.20) rotate(-90)">Percent survival</text>
<path d="M52.5 537.5 L53.5 537.5 L53.5 538.1 L54.4 538.1 L54.4 538.3 L55.9 538.3 L55.9 538.9 L56.2 538.9 L56.2 539.3 L57.4 539.3 L57.4 539.8 L58.2 539.8 L58.2 540.2 L58.9 540.2 L58.9 540.3 L60.0 540.3 L60.0 541.0 L60.2 541.0 L60.2 541.2 L60.3 541.2 L60.3 541.1 L61.9 541.1 L61.9 541.8 L63.7 541.8 L63.7 542.8 L64.4 542.8 L64.4 543.0 L65.9 543.0 L65.9 543.8 L67.4 543.8 L67.4 544.6 L67.8 544.6 L67.8 544.8 L68.2 544.8 L68.2 545.0 L69.4 545.0 L69.4 545.2 L69.5 545.2 L69.5 545.3 L69.5 545.3 L69.5 545.3 L69.9 545.3 L69.9 545.4 L70.8 545.4 L70.8 545.5 L73.9 545.5 L73.9 546.2 L74.9 546.2 L74.9 546.5 L76.6 546.5 L76.6 547.0 L79.7 547.0 L79.7 547.9 L79.7 547.9 L79.7 547.8 L80.9 547.8 L80.9 548.2 L81.5 548.2 L81.5 548.4 L81.9 548.4 L81.9 548.5 L82.0 548.5 L82.0 548.5 L82.3 548.5 L82.3 548.6 L83.4 548.6 L83.4 549.0 L83.9 549.0 L83.9 549.2 L85.3 549.2 L85.3 549.7 L86.0 549.7 L86.0 550.0 L86.7 550.0 L86.7 550.2 L88.4 550.2 L88.4 550.9 L90.0 550.9 L90.0 551.4 L90.2 551.4 L90.2 551.6 L90.3 551.6 L90.3 551.5 L92.7 551.5 L92.7 552.5 L93.4 552.5 L93.4 552.7 L93.6 552.7 L93.6 552.9 L94.9 552.9 L94.9 553.5 L96.9 553.5 L96.9 554.2 L98.5 554.2 L98.5 554.7 L100.3 554.7 L100.3 555.2 L100.5 555.2 L100.5 555.2 L102.1 555.2 L102.1 555.7 L102.7 555.7 L102.7 556.0 L103.3 556.0 L103.3 556.0 L103.6 556.0 L103.6 556.2 L107.1 556.2 L107.1 557.6 L108.6 557.6 L108.6 558.2 L108.9 558.2 L108.9 558.2 L109.1 558.2 L109.1 558.5 L109.2 558.5 L109.2 558.4 L109.6 558.4 L109.6 558.5 L110.4 558.5 L110.4 558.9 L111.7 558.9 L111.7 559.4 L113.0 559.4 L113.0 559.9 L114.7 559.9 L114.7 559.9 L114.7 559.9 L114.7 559.9 L115.6 559.9 L115.6 559.9 L116.0 559.9 L116.0 559.9 L117.8 559.9 L117.8 559.9 L117.8 562.0 L118.7 562.0 L120.4 562.0 L120.4 562.0 L121.2 562.0 L121.2 562.1 L124.4 562.1 L124.4 562.2 L125.3 562.2 L125.3 562.2 L126.5 562.2 L126.5 562.2 L126.5 562.2 L126.5 562.2 L126.7 562.2 L126.7 562.2 L126.9 562.2 L126.9 562.2 L127.1 562.2 L127.1 562.2 L128.5 562.2 L128.5 562.3" fill="none" stroke="#2626c4" stroke-width="1.25" stroke-linejoin="round" stroke-linecap="round" opacity="0.95"/>
<path d="M52.5 537.5 L52.9 537.5 L52.9 537.7 L53.1 537.7 L53.1 537.8 L57.5 537.8 L57.5 540.0 L58.0 540.0 L58.0 540.2 L58.8 540.2 L58.8 540.5 L59.6 540.5 L59.6 541.0 L59.7 541.0 L59.7 541.0 L60.0 541.0 L60.0 541.2 L60.2 541.2 L60.2 541.3 L60.3 541.3 L60.3 541.3 L62.2 541.3 L62.2 542.2 L63.6 542.2 L63.6 543.1 L64.5 543.1 L64.5 543.4 L65.9 543.4 L65.9 544.1 L67.8 544.1 L67.8 544.9 L68.2 544.9 L68.2 545.0 L68.2 545.0 L68.2 545.2 L69.0 545.2 L69.0 545.5 L70.1 545.5 L70.1 546.0 L71.1 546.0 L71.1 546.4 L72.0 546.4 L72.0 546.8 L73.9 546.8 L73.9 547.6 L73.9 547.6 L73.9 547.5 L75.6 547.5 L75.6 549.0 L77.5 549.0 L77.5 550.4 L77.6 550.4 L77.6 550.7 L78.5 550.7 L78.5 551.4 L78.6 551.4 L78.6 551.4 L81.2 551.4 L81.2 553.1 L81.4 553.1 L81.4 553.1 L81.5 553.1 L81.5 553.3 L81.6 553.3 L81.6 553.4 L83.9 553.4 L83.9 554.6 L84.3 554.6 L84.3 554.9 L85.6 554.9 L85.6 555.2 L87.1 555.2 L87.1 555.7 L87.5 555.7 L87.5 555.7 L88.4 555.7 L88.4 556.0 L89.5 556.0 L89.5 556.3 L90.0 556.3 L90.0 556.4 L92.1 556.4 L92.1 557.2 L93.5 557.2 L93.5 557.7 L93.6 557.7 L93.6 557.7 L94.9 557.7 L94.9 558.1 L96.3 558.1 L96.3 558.7 L96.6 558.7 L96.6 558.9 L96.9 558.9 L96.9 558.9 L97.4 558.9 L97.4 559.1 L98.2 559.1 L98.2 559.2 L101.1 559.2 L101.1 560.0 L101.8 560.0 L101.8 560.2 L102.4 560.2 L102.4 560.3 L103.0 560.3 L103.0 560.6 L103.6 560.6 L103.6 560.7 L104.3 560.7 L104.3 560.8 L105.0 560.8 L105.0 561.0 L105.3 561.0 L105.3 561.0 L107.2 561.0 L107.2 561.4 L109.4 561.4 L109.4 561.8 L109.6 561.8 L109.6 561.9 L110.4 561.9 L110.4 562.0 L110.5 562.0 L110.5 562.0 L110.8 562.0 L110.8 562.1 L114.3 562.1 L114.3 563.1 L115.6 563.1 L115.6 563.3 L115.8 563.3 L115.8 563.4 L116.0 563.4 L116.0 563.4 L116.8 563.4 L116.8 563.3 L117.8 563.3 L117.8 563.3 L119.5 563.3 L119.5 563.1 L121.1 563.1 L121.1 563.0 L121.3 563.0 L121.3 563.0 L121.9 563.0 L121.9 563.0 L123.6 563.0 L123.6 562.9 L124.4 562.9 L124.4 562.9 L125.7 562.9 L125.7 562.8 L126.6 562.8 L126.6 562.8 L126.8 562.8 L126.8 562.8 L128.5 562.8 L128.5 562.7" fill="none" stroke="#e0242c" stroke-width="1.25" stroke-linejoin="round" stroke-linecap="round" opacity="0.95"/>
<text x="59.50" y="579.60" font-size="6.7" font-weight="normal" text-anchor="start" fill="#222" stroke="#222" stroke-width="0.15">HR = 1.308</text>
<text x="59.5" y="587.90" font-size="6.7" fill="#222" stroke="#222" stroke-width="0.15"><tspan font-style="italic">P</tspan> = 0.0279</text>
<line x1="49.50" y1="618.30" x2="49.50" y2="673.90" stroke="#2a2a2a" stroke-width="0.85"/>
<line x1="49.10" y1="673.50" x2="125.50" y2="673.50" stroke="#2a2a2a" stroke-width="0.85"/>
<line x1="47.50" y1="619.10" x2="49.30" y2="619.10" stroke="#2a2a2a" stroke-width="0.7"/>
<text x="47.10" y="620.96" font-size="5.2" font-weight="normal" text-anchor="end" fill="#2a2a2a" stroke="#2a2a2a" stroke-width="0.05">100</text>
<line x1="47.50" y1="646.35" x2="49.30" y2="646.35" stroke="#2a2a2a" stroke-width="0.7"/>
<text x="47.10" y="648.21" font-size="5.2" font-weight="normal" text-anchor="end" fill="#2a2a2a" stroke="#2a2a2a" stroke-width="0.05">50</text>
<line x1="47.50" y1="673.60" x2="49.30" y2="673.60" stroke="#2a2a2a" stroke-width="0.7"/>
<text x="47.10" y="675.46" font-size="5.2" font-weight="normal" text-anchor="end" fill="#2a2a2a" stroke="#2a2a2a" stroke-width="0.05">0</text>
<line x1="49.30" y1="673.60" x2="49.30" y2="675.40" stroke="#2a2a2a" stroke-width="0.7"/>
<text x="49.30" y="680.66" font-size="5.2" font-weight="normal" text-anchor="middle" fill="#2a2a2a" stroke="#2a2a2a" stroke-width="0.05">0</text>
<line x1="87.10" y1="673.60" x2="87.10" y2="675.40" stroke="#2a2a2a" stroke-width="0.7"/>
<text x="87.10" y="680.66" font-size="5.2" font-weight="normal" text-anchor="middle" fill="#2a2a2a" stroke="#2a2a2a" stroke-width="0.05">50</text>
<line x1="124.90" y1="673.60" x2="124.90" y2="675.40" stroke="#2a2a2a" stroke-width="0.7"/>
<text x="124.90" y="680.66" font-size="5.2" font-weight="normal" text-anchor="middle" fill="#2a2a2a" stroke="#2a2a2a" stroke-width="0.05">100</text>
<text x="87.10" y="689.38" font-size="5.8" font-weight="normal" text-anchor="middle" fill="#2a2a2a" stroke="#2a2a2a" stroke-width="0.05">Month</text>
<text x="0.00" y="2.15" font-size="6.0" font-weight="normal" text-anchor="middle" fill="#2a2a2a" stroke="#2a2a2a" stroke-width="0.05" transform="translate(36.00 645.80) rotate(-90)">Percent survival</text>
<path d="M49.3 619.1 L50.2 619.1 L50.2 619.6 L51.1 619.6 L51.1 620.0 L52.4 620.0 L52.4 620.5 L52.8 620.5 L52.8 620.7 L54.6 620.7 L54.6 621.8 L55.2 621.8 L55.2 622.0 L56.3 622.0 L56.3 622.5 L56.3 622.5 L56.3 622.4 L58.1 622.4 L58.1 622.8 L59.9 622.8 L59.9 623.2 L62.1 623.2 L62.1 623.7 L62.4 623.7 L62.4 623.7 L63.5 623.7 L63.5 623.9 L63.9 623.9 L63.9 624.0 L64.3 624.0 L64.3 624.1 L64.5 624.1 L64.5 624.2 L64.6 624.2 L64.6 624.2 L66.5 624.2 L66.5 624.6 L66.5 624.6 L66.5 624.5 L66.6 624.5 L66.6 624.7 L66.7 624.7 L66.7 624.6 L67.2 624.6 L67.2 624.6 L68.7 624.6 L68.7 625.0 L68.9 625.0 L68.9 625.1 L69.3 625.1 L69.3 625.2 L74.4 625.2 L74.4 626.2 L76.9 626.2 L76.9 627.0 L77.8 627.0 L77.8 627.2 L79.2 627.2 L79.2 627.6 L79.8 627.6 L79.8 627.7 L81.1 627.7 L81.1 628.1 L81.5 628.1 L81.5 628.4 L82.0 628.4 L82.0 628.4 L82.5 628.4 L82.5 628.6 L83.6 628.6 L83.6 628.9 L84.8 628.9 L84.8 629.2 L85.8 629.2 L85.8 629.5 L86.6 629.5 L86.6 629.7 L86.8 629.7 L86.8 629.7 L88.6 629.7 L88.6 630.2 L88.7 630.2 L88.7 630.4 L88.8 630.4 L88.8 630.5 L90.6 630.5 L90.6 632.0 L92.6 632.0 L92.6 633.8 L93.6 633.8 L93.6 633.9 L95.0 633.9 L95.0 634.1 L95.7 634.1 L95.7 634.2 L97.3 634.2 L97.3 634.4 L98.6 634.4 L98.6 634.6 L98.7 634.6 L98.7 634.6 L99.8 634.6 L99.8 635.3 L100.5 635.3 L100.5 635.9 L101.0 635.9 L101.0 636.1 L102.7 636.1 L102.7 637.3 L103.4 637.3 L103.4 637.3 L105.1 637.3 L105.1 637.4 L107.9 637.4 L107.9 637.5 L109.0 637.5 L109.0 637.5 L109.5 637.5 L109.5 637.5 L109.6 637.5 L109.6 637.5 L111.7 637.5 L111.7 637.6 L112.2 637.6 L112.2 637.6 L112.5 637.6 L112.5 637.6 L112.6 637.6 L112.6 637.6 L113.2 637.6 L113.2 637.6 L113.4 637.6 L113.4 637.7 L114.8 637.7 L114.8 637.7 L114.8 645.3 L115.2 645.3 L115.4 645.3 L115.4 645.3 L116.0 645.3 L116.0 645.3 L117.7 645.3 L117.7 645.4 L121.7 645.4 L121.7 645.6 L122.9 645.6 L122.9 645.6 L122.9 645.6 L122.9 645.6 L123.1 645.6 L123.1 645.6 L123.4 645.6 L123.4 645.6 L123.6 645.6 L123.6 645.6 L124.9 645.6 L124.9 645.7" fill="none" stroke="#2626c4" stroke-width="1.25" stroke-linejoin="round" stroke-linecap="round" opacity="0.95"/>
<path d="M49.3 619.1 L49.7 619.1 L49.7 619.4 L49.9 619.4 L49.9 619.4 L54.5 619.4 L54.5 622.5 L55.1 622.5 L55.1 623.0 L55.9 623.0 L55.9 623.5 L56.0 623.5 L56.0 623.4 L56.3 623.4 L56.3 623.7 L59.4 623.7 L59.4 625.5 L59.7 625.5 L59.7 625.6 L59.9 625.6 L59.9 625.7 L60.7 625.7 L60.7 626.4 L62.1 626.4 L62.1 627.2 L63.9 627.2 L63.9 628.3 L64.3 628.3 L64.3 628.7 L64.3 628.7 L64.3 628.6 L64.4 628.6 L64.4 628.6 L65.7 628.6 L65.7 629.5 L66.3 629.5 L66.3 629.9 L67.5 629.9 L67.5 630.5 L67.7 630.5 L67.7 630.5 L70.4 630.5 L70.4 632.2 L73.3 632.2 L73.3 634.6 L76.3 634.6 L76.3 636.9 L76.6 636.9 L76.6 636.7 L76.8 636.7 L76.8 637.1 L76.9 637.1 L76.9 637.2 L77.6 637.2 L77.6 637.6 L77.7 637.6 L77.7 637.7 L78.5 637.7 L78.5 638.3 L81.3 638.3 L81.3 639.4 L82.4 639.4 L82.4 639.8 L82.5 639.8 L82.5 639.9 L85.2 639.9 L85.2 640.8 L85.6 640.8 L85.6 640.9 L85.7 640.9 L85.7 640.9 L85.9 640.9 L85.9 641.0 L86.5 641.0 L86.5 641.3 L87.8 641.3 L87.8 641.6 L88.7 641.6 L88.7 641.7 L89.0 641.7 L89.0 641.8 L92.2 641.8 L92.2 642.4 L93.9 642.4 L93.9 642.8 L93.9 642.8 L93.9 642.7 L94.3 642.7 L94.3 642.8 L94.6 642.8 L94.6 642.9 L95.2 642.9 L95.2 643.1 L96.2 643.1 L96.2 643.2 L98.7 643.2 L98.7 643.8 L99.6 643.8 L99.6 644.0 L100.5 644.0 L100.5 644.2 L101.2 644.2 L101.2 644.4 L102.0 644.4 L102.0 644.5 L102.2 644.5 L102.2 644.6 L102.7 644.6 L102.7 644.7 L104.0 644.7 L104.0 645.2 L104.2 645.2 L104.2 645.1 L105.3 645.1 L105.3 645.6 L107.9 645.6 L107.9 646.4 L108.1 646.4 L108.1 646.6 L108.8 646.6 L108.8 646.8 L109.0 646.8 L109.0 646.8 L109.0 646.8 L109.0 646.8 L109.5 646.8 L109.5 646.8 L110.8 646.8 L110.8 646.7 L114.6 646.7 L114.6 646.5 L115.3 646.5 L115.3 646.4 L116.4 646.4 L116.4 646.3 L116.8 646.3 L116.8 646.3 L117.0 646.3 L117.0 646.3 L117.1 646.3 L117.1 646.3 L117.7 646.3 L117.7 646.2 L119.5 646.2 L119.5 646.2 L119.6 646.2 L119.6 646.2 L120.4 646.2 L120.4 646.1 L121.8 646.1 L121.8 646.1 L122.8 646.1 L122.8 646.0 L124.9 646.0 L124.9 645.9" fill="none" stroke="#e0242c" stroke-width="1.25" stroke-linejoin="round" stroke-linecap="round" opacity="0.95"/>
<text x="55.40" y="661.00" font-size="6.7" font-weight="normal" text-anchor="start" fill="#222" stroke="#222" stroke-width="0.15">HR = 1.918</text>
<text x="55.4" y="669.50" font-size="6.7" fill="#222" stroke="#222" stroke-width="0.15"><tspan font-style="italic">P</tspan> = 0.0002</text>
<line x1="168.50" y1="538.00" x2="168.50" y2="592.90" stroke="#2a2a2a" stroke-width="0.85"/>
<line x1="168.10" y1="592.50" x2="251.80" y2="592.50" stroke="#2a2a2a" stroke-width="0.85"/>
<line x1="167.00" y1="538.80" x2="168.80" y2="538.80" stroke="#2a2a2a" stroke-width="0.7"/>
<text x="166.60" y="540.66" font-size="5.2" font-weight="normal" text-anchor="end" fill="#2a2a2a" stroke="#2a2a2a" stroke-width="0.05">100</text>
<line x1="167.00" y1="565.80" x2="168.80" y2="565.80" stroke="#2a2a2a" stroke-width="0.7"/>
<text x="166.60" y="567.66" font-size="5.2" font-weight="normal" text-anchor="end" fill="#2a2a2a" stroke="#2a2a2a" stroke-width="0.05">50</text>
<line x1="167.00" y1="592.80" x2="168.80" y2="592.80" stroke="#2a2a2a" stroke-width="0.7"/>
<text x="166.60" y="594.66" font-size="5.2" font-weight="normal" text-anchor="end" fill="#2a2a2a" stroke="#2a2a2a" stroke-width="0.05">0</text>
<line x1="168.80" y1="592.80" x2="168.80" y2="594.60" stroke="#2a2a2a" stroke-width="0.7"/>
<text x="168.80" y="600.06" font-size="5.2" font-weight="normal" text-anchor="middle" fill="#2a2a2a" stroke="#2a2a2a" stroke-width="0.05">0</text>
<line x1="210.00" y1="592.80" x2="210.00" y2="594.60" stroke="#2a2a2a" stroke-width="0.7"/>
<text x="210.00" y="600.06" font-size="5.2" font-weight="normal" text-anchor="middle" fill="#2a2a2a" stroke="#2a2a2a" stroke-width="0.05">50</text>
<line x1="251.20" y1="592.80" x2="251.20" y2="594.60" stroke="#2a2a2a" stroke-width="0.7"/>
<text x="251.20" y="600.06" font-size="5.2" font-weight="normal" text-anchor="middle" fill="#2a2a2a" stroke="#2a2a2a" stroke-width="0.05">100</text>
<text x="210.30" y="606.88" font-size="5.8" font-weight="normal" text-anchor="middle" fill="#2a2a2a" stroke="#2a2a2a" stroke-width="0.05">Month</text>
<text x="0.00" y="2.15" font-size="6.0" font-weight="normal" text-anchor="middle" fill="#2a2a2a" stroke="#2a2a2a" stroke-width="0.05" transform="translate(153.10 564.80) rotate(-90)">Percent survival</text>
<path d="M168.8 538.8 L169.3 538.8 L169.3 539.4 L172.7 539.4 L172.7 542.7 L174.5 542.7 L174.5 543.6 L176.1 543.6 L176.1 544.5 L178.0 544.5 L178.0 545.5 L179.6 545.5 L179.6 546.2 L179.8 546.2 L179.8 546.3 L180.2 546.3 L180.2 546.5 L185.4 546.5 L185.4 548.3 L186.5 548.3 L186.5 548.9 L189.1 548.9 L189.1 549.9 L190.7 549.9 L190.7 550.6 L192.3 550.6 L192.3 551.2 L192.5 551.2 L192.5 551.2 L197.5 551.2 L197.5 553.3 L198.1 553.3 L198.1 553.5 L199.6 553.5 L199.6 554.0 L200.7 554.0 L200.7 554.3 L204.6 554.3 L204.6 555.6 L205.0 555.6 L205.0 555.8 L207.5 555.8 L207.5 556.1 L207.9 556.1 L207.9 556.1 L210.8 556.1 L210.8 556.5 L210.8 558.8 L211.9 558.8 L213.5 558.8 L213.5 558.9 L214.0 558.9 L214.0 559.0 L215.3 559.0 L215.3 559.0 L219.3 559.0 L219.3 559.3" fill="none" stroke="#2626c4" stroke-width="1.25" stroke-linejoin="round" stroke-linecap="round" opacity="0.95"/>
<path d="M168.8 538.8 L172.5 538.8 L172.5 542.9 L172.7 542.9 L172.7 542.9 L173.1 542.9 L173.1 543.2 L173.3 543.2 L173.3 543.2 L178.5 543.2 L178.5 545.8 L179.6 545.8 L179.6 546.4 L183.6 546.4 L183.6 547.9 L183.8 547.9 L183.8 548.0 L183.8 548.0 L183.8 548.0 L186.5 548.0 L186.5 549.1 L189.9 549.1 L189.9 550.8 L191.2 550.8 L191.2 551.4 L191.2 551.4 L191.2 551.4 L192.7 551.4 L192.7 553.3 L194.6 553.3 L194.6 555.8 L194.7 555.8 L194.7 555.9 L194.8 555.9 L194.8 555.9 L199.2 555.9 L199.2 559.5 L202.3 559.5 L202.3 560.1 L203.5 560.1 L203.5 560.3 L203.7 560.3 L203.7 560.4 L206.4 560.4 L206.4 561.0 L207.3 561.0 L207.3 561.2 L209.6 561.2 L209.6 562.4 L211.9 562.4 L211.9 563.4 L211.9 563.4 L211.9 563.5 L213.8 563.5 L213.8 568.1 L218.2 568.1 L218.2 568.4 L218.7 568.4 L218.7 568.5 L219.3 568.5 L219.3 568.5" fill="none" stroke="#e0242c" stroke-width="1.25" stroke-linejoin="round" stroke-linecap="round" opacity="0.95"/>
<text x="173.80" y="580.40" font-size="6.7" font-weight="normal" text-anchor="start" fill="#222" stroke="#222" stroke-width="0.15">HR = 1.376</text>
<text x="173.8" y="588.50" font-size="6.7" fill="#222" stroke="#222" stroke-width="0.15"><tspan font-style="italic">P</tspan> = 0.1147</text>
<line x1="164.50" y1="620.30" x2="164.50" y2="675.90" stroke="#2a2a2a" stroke-width="0.85"/>
<line x1="164.10" y1="675.50" x2="247.10" y2="675.50" stroke="#2a2a2a" stroke-width="0.85"/>
<line x1="162.80" y1="621.10" x2="164.60" y2="621.10" stroke="#2a2a2a" stroke-width="0.7"/>
<text x="162.40" y="622.96" font-size="5.2" font-weight="normal" text-anchor="end" fill="#2a2a2a" stroke="#2a2a2a" stroke-width="0.05">100</text>
<line x1="162.80" y1="648.10" x2="164.60" y2="648.10" stroke="#2a2a2a" stroke-width="0.7"/>
<text x="162.40" y="649.96" font-size="5.2" font-weight="normal" text-anchor="end" fill="#2a2a2a" stroke="#2a2a2a" stroke-width="0.05">50</text>
<line x1="162.80" y1="675.10" x2="164.60" y2="675.10" stroke="#2a2a2a" stroke-width="0.7"/>
<text x="162.40" y="676.96" font-size="5.2" font-weight="normal" text-anchor="end" fill="#2a2a2a" stroke="#2a2a2a" stroke-width="0.05">0</text>
<line x1="164.60" y1="675.10" x2="164.60" y2="676.90" stroke="#2a2a2a" stroke-width="0.7"/>
<text x="164.60" y="682.36" font-size="5.2" font-weight="normal" text-anchor="middle" fill="#2a2a2a" stroke="#2a2a2a" stroke-width="0.05">0</text>
<line x1="205.55" y1="675.10" x2="205.55" y2="676.90" stroke="#2a2a2a" stroke-width="0.7"/>
<text x="205.55" y="682.36" font-size="5.2" font-weight="normal" text-anchor="middle" fill="#2a2a2a" stroke="#2a2a2a" stroke-width="0.05">50</text>
<line x1="246.50" y1="675.10" x2="246.50" y2="676.90" stroke="#2a2a2a" stroke-width="0.7"/>
<text x="246.50" y="682.36" font-size="5.2" font-weight="normal" text-anchor="middle" fill="#2a2a2a" stroke="#2a2a2a" stroke-width="0.05">100</text>
<text x="206.20" y="688.48" font-size="5.8" font-weight="normal" text-anchor="middle" fill="#2a2a2a" stroke="#2a2a2a" stroke-width="0.05">Month</text>
<text x="0.00" y="2.15" font-size="6.0" font-weight="normal" text-anchor="middle" fill="#2a2a2a" stroke="#2a2a2a" stroke-width="0.05" transform="translate(149.80 645.80) rotate(-90)">Percent survival</text>
<path d="M164.6 621.1 L165.4 621.1 L165.4 621.5 L169.5 621.5 L169.5 623.3 L170.4 623.3 L170.4 623.8 L173.5 623.8 L173.5 625.1 L173.8 625.1 L173.8 625.1 L174.9 625.1 L174.9 625.5 L177.3 625.5 L177.3 626.6 L180.3 626.6 L180.3 627.5 L182.6 627.5 L182.6 628.3 L183.1 628.3 L183.1 628.6 L184.2 628.6 L184.2 628.9 L185.8 628.9 L185.8 629.2 L190.5 629.2 L190.5 630.1 L190.8 630.1 L190.8 630.2 L191.2 630.2 L191.2 630.3 L192.7 630.3 L192.7 630.8 L193.8 630.8 L193.8 631.1 L197.7 631.1 L197.7 632.4 L198.1 632.4 L198.1 632.6 L200.1 632.6 L200.1 633.6 L202.7 633.6 L202.7 634.9 L203.8 634.9 L203.8 635.1 L207.3 635.1 L207.3 635.8 L207.3 641.2 L208.5 641.2 L210.0 641.2 L210.0 641.2 L210.5 641.2 L210.5 641.2 L211.7 641.2 L211.7 641.2 L215.4 641.2 L215.4 641.2" fill="none" stroke="#2626c4" stroke-width="1.25" stroke-linejoin="round" stroke-linecap="round" opacity="0.95"/>
<path d="M164.6 621.1 L169.0 621.1 L169.0 625.7 L169.2 625.7 L169.2 625.7 L169.5 625.7 L169.5 626.0 L169.7 626.0 L169.7 626.1 L175.0 626.1 L175.0 629.6 L178.1 629.6 L178.1 632.6 L179.6 632.6 L179.6 634.2 L183.6 634.2 L183.6 635.5 L183.8 635.5 L183.8 635.6 L183.8 635.6 L183.8 635.6 L186.5 635.6 L186.5 636.5 L189.9 636.5 L189.9 640.9 L191.2 640.9 L191.2 642.3 L194.4 642.3 L194.4 646.7 L194.6 646.7 L194.6 646.9 L196.2 646.9 L196.2 647.5 L197.2 647.5 L197.2 648.0 L200.4 648.0 L200.4 649.7 L203.9 649.7 L203.9 649.7 L205.2 649.7 L205.2 649.7 L206.1 649.7 L206.1 649.7 L207.4 649.7 L207.4 649.7 L208.3 649.7 L208.3 649.7 L208.8 649.7 L208.8 649.7 L213.8 649.7 L213.8 649.7 L215.4 649.7 L215.4 649.7" fill="none" stroke="#e0242c" stroke-width="1.25" stroke-linejoin="round" stroke-linecap="round" opacity="0.95"/>
<text x="170.20" y="663.60" font-size="6.7" font-weight="normal" text-anchor="start" fill="#222" stroke="#222" stroke-width="0.15">HR = 2.274</text>
<text x="170.2" y="672.80" font-size="6.7" fill="#222" stroke="#222" stroke-width="0.15"><tspan font-style="italic">P</tspan> = 0.0047</text>
<text x="217.00" y="542.70" font-size="6.7" font-weight="bold" text-anchor="start" fill="#2a2ad0" stroke="#2a2ad0" stroke-width="0.3">SMARCA2+NSD2-low</text>
<text x="217.00" y="551.20" font-size="6.7" font-weight="bold" text-anchor="start" fill="#e0202a" stroke="#e0202a" stroke-width="0.3">SMARCA2+NSD2-high</text>
<text x="217.50" y="623.20" font-size="6.7" font-weight="bold" text-anchor="start" fill="#2a2ad0" stroke="#2a2ad0" stroke-width="0.3">SMARCA2+NSD2-Q1</text>
<text x="217.50" y="631.70" font-size="6.7" font-weight="bold" text-anchor="start" fill="#e0202a" stroke="#e0202a" stroke-width="0.3">SMARCA2+NSD2-Q4</text>
<text x="255.20" y="654.80" font-size="6.7" font-weight="normal" text-anchor="start" fill="#222" stroke="#222" stroke-width="0.15">Q1: lowest quantile</text>
<text x="255.20" y="663.50" font-size="6.7" font-weight="normal" text-anchor="start" fill="#222" stroke="#222" stroke-width="0.15">Low: &lt;median</text>
<text x="255.20" y="672.20" font-size="6.7" font-weight="normal" text-anchor="start" fill="#222" stroke="#222" stroke-width="0.15">High: &gt;median</text>
<text x="255.20" y="680.90" font-size="6.7" font-weight="normal" text-anchor="start" fill="#222" stroke="#222" stroke-width="0.15">Q4: highest quantile</text>
<text x="340.80" y="523.63" font-size="14.6" font-weight="bold" text-anchor="start" fill="#1a1a1a" stroke="#1a1a1a" stroke-width="0.42">F</text>
<text x="444.30" y="517.47" font-size="9.4" font-weight="normal" text-anchor="middle" fill="#222" stroke="#222" stroke-width="0.15">SMARCA2</text>
<rect x="375.80" y="526.10" width="143.10" height="135.20" fill="none" stroke="#3a3a3a" stroke-width="0.9"/>
<line x1="373.10" y1="553.00" x2="375.80" y2="553.00" stroke="#3a3a3a" stroke-width="0.8"/>
<text x="0.00" y="2.51" font-size="7.0" font-weight="normal" text-anchor="middle" fill="#222" stroke="#222" stroke-width="0.15" transform="translate(365.40 553.00) rotate(-90)">10.0</text>
<line x1="373.10" y1="583.20" x2="375.80" y2="583.20" stroke="#3a3a3a" stroke-width="0.8"/>
<text x="0.00" y="2.51" font-size="7.0" font-weight="normal" text-anchor="middle" fill="#222" stroke="#222" stroke-width="0.15" transform="translate(365.40 583.20) rotate(-90)">9.5</text>
<line x1="373.10" y1="612.90" x2="375.80" y2="612.90" stroke="#3a3a3a" stroke-width="0.8"/>
<text x="0.00" y="2.51" font-size="7.0" font-weight="normal" text-anchor="middle" fill="#222" stroke="#222" stroke-width="0.15" transform="translate(365.40 612.90) rotate(-90)">9.0</text>
<line x1="373.10" y1="642.90" x2="375.80" y2="642.90" stroke="#3a3a3a" stroke-width="0.8"/>
<text x="0.00" y="2.51" font-size="7.0" font-weight="normal" text-anchor="middle" fill="#222" stroke="#222" stroke-width="0.15" transform="translate(365.40 642.90) rotate(-90)">8.5</text>
<text transform="translate(351.2 595.5) rotate(-90)" x="0" y="2.9" font-size="8.1" text-anchor="middle" fill="#222" stroke="#222" stroke-width="0.15">Log<tspan font-size="5.8" dy="1.6">2</tspan><tspan dy="-1.6"> intensity</tspan></text>
<line x1="397.50" y1="661.30" x2="397.50" y2="664.00" stroke="#3a3a3a" stroke-width="0.8"/>
<text x="398.10" y="674.96" font-size="8.0" font-weight="normal" text-anchor="middle" fill="#222" stroke="#222" stroke-width="0.15">NORM</text>
<line x1="430.70" y1="661.30" x2="430.70" y2="664.00" stroke="#3a3a3a" stroke-width="0.8"/>
<text x="432.40" y="674.96" font-size="8.0" font-weight="normal" text-anchor="middle" fill="#222" stroke="#222" stroke-width="0.15">MGUS</text>
<line x1="463.50" y1="661.30" x2="463.50" y2="664.00" stroke="#3a3a3a" stroke-width="0.8"/>
<text x="467.00" y="674.96" font-size="8.0" font-weight="normal" text-anchor="middle" fill="#222" stroke="#222" stroke-width="0.15">SMM</text>
<line x1="496.50" y1="661.30" x2="496.50" y2="664.00" stroke="#3a3a3a" stroke-width="0.8"/>
<text x="492.60" y="674.96" font-size="8.0" font-weight="normal" text-anchor="middle" fill="#222" stroke="#222" stroke-width="0.15">MM</text>
<text x="384.80" y="536.76" font-size="6.3" font-weight="bold" text-anchor="start" fill="#111" stroke="#111" stroke-width="0.25">P(MGUS:N) = 0.0882</text>
<text x="384.80" y="544.41" font-size="6.3" font-weight="bold" text-anchor="start" fill="#111" stroke="#111" stroke-width="0.25">P(SMM:N) = 0.162</text>
<text x="384.80" y="552.06" font-size="6.3" font-weight="bold" text-anchor="start" fill="#111" stroke="#111" stroke-width="0.25">P(MM:N) = 0.00128</text>
<line x1="397.50" y1="598.80" x2="397.50" y2="608.40" stroke="#555" stroke-width="0.8" stroke-dasharray="1.1 1.3"/>
<line x1="397.50" y1="627.30" x2="397.50" y2="641.30" stroke="#555" stroke-width="0.8" stroke-dasharray="1.1 1.3"/>
<line x1="384.40" y1="608.40" x2="410.80" y2="608.40" stroke="#777" stroke-width="1.0"/>
<line x1="384.40" y1="627.30" x2="410.80" y2="627.30" stroke="#c4c4c4" stroke-width="1.0"/>
<line x1="384.40" y1="607.90" x2="384.40" y2="627.80" stroke="#303030" stroke-width="1.15"/>
<line x1="410.80" y1="607.90" x2="410.80" y2="627.80" stroke="#303030" stroke-width="1.15"/>
<line x1="384.40" y1="613.40" x2="410.80" y2="613.40" stroke="#151515" stroke-width="2.0"/>
<line x1="390.90" y1="598.80" x2="404.10" y2="598.80" stroke="#3a3a3a" stroke-width="0.9"/>
<line x1="390.90" y1="641.30" x2="404.10" y2="641.30" stroke="#3a3a3a" stroke-width="0.9"/>
<line x1="430.70" y1="563.40" x2="430.70" y2="596.90" stroke="#d4b8a8" stroke-width="0.8" stroke-dasharray="1.1 1.3"/>
<line x1="430.70" y1="622.80" x2="430.70" y2="648.30" stroke="#d4b8a8" stroke-width="0.8" stroke-dasharray="1.1 1.3"/>
<line x1="417.30" y1="596.90" x2="444.40" y2="596.90" stroke="#a8a8a8" stroke-width="1.0"/>
<line x1="417.30" y1="622.80" x2="444.40" y2="622.80" stroke="#444" stroke-width="1.0"/>
<line x1="417.30" y1="596.40" x2="417.30" y2="623.30" stroke="#303030" stroke-width="1.15"/>
<line x1="444.40" y1="596.40" x2="444.40" y2="623.30" stroke="#303030" stroke-width="1.15"/>
<line x1="417.30" y1="609.80" x2="444.40" y2="609.80" stroke="#151515" stroke-width="2.0"/>
<line x1="423.93" y1="563.40" x2="437.47" y2="563.40" stroke="#3a3a3a" stroke-width="0.9"/>
<line x1="423.93" y1="648.30" x2="437.47" y2="648.30" stroke="#3a3a3a" stroke-width="0.9"/>
<line x1="463.50" y1="577.50" x2="463.50" y2="599.10" stroke="#666" stroke-width="0.8" stroke-dasharray="1.1 1.3"/>
<line x1="463.50" y1="620.20" x2="463.50" y2="645.30" stroke="#666" stroke-width="0.8" stroke-dasharray="1.1 1.3"/>
<line x1="449.80" y1="599.10" x2="476.40" y2="599.10" stroke="#555" stroke-width="1.0"/>
<line x1="449.80" y1="620.20" x2="476.40" y2="620.20" stroke="#666" stroke-width="1.0"/>
<line x1="449.80" y1="598.60" x2="449.80" y2="620.70" stroke="#303030" stroke-width="1.15"/>
<line x1="476.40" y1="598.60" x2="476.40" y2="620.70" stroke="#303030" stroke-width="1.15"/>
<line x1="449.80" y1="613.70" x2="476.40" y2="613.70" stroke="#151515" stroke-width="2.0"/>
<line x1="456.85" y1="577.50" x2="470.15" y2="577.50" stroke="#3a3a3a" stroke-width="0.9"/>
<line x1="456.85" y1="645.30" x2="470.15" y2="645.30" stroke="#aaa" stroke-width="0.9"/>
<line x1="496.50" y1="530.60" x2="496.50" y2="580.70" stroke="#666" stroke-width="0.8" stroke-dasharray="1.1 1.3"/>
<line x1="496.50" y1="616.30" x2="496.50" y2="656.50" stroke="#666" stroke-width="0.8" stroke-dasharray="1.1 1.3"/>
<line x1="483.40" y1="580.70" x2="510.00" y2="580.70" stroke="#444" stroke-width="1.0"/>
<line x1="483.40" y1="616.30" x2="510.00" y2="616.30" stroke="#555" stroke-width="1.0"/>
<line x1="483.40" y1="580.20" x2="483.40" y2="616.80" stroke="#303030" stroke-width="1.15"/>
<line x1="510.00" y1="580.20" x2="510.00" y2="616.80" stroke="#303030" stroke-width="1.15"/>
<line x1="483.40" y1="601.30" x2="510.00" y2="601.30" stroke="#151515" stroke-width="2.0"/>
<line x1="489.85" y1="656.50" x2="503.15" y2="656.50" stroke="#3a3a3a" stroke-width="0.9"/>
<circle cx="397.5" cy="598.7" r="1.2" fill="#35423f" stroke="#35a890" stroke-width="0.45"/>
<circle cx="396.4" cy="603.5" r="1.2" fill="#35423f" stroke="#35a890" stroke-width="0.45"/>
<circle cx="393.8" cy="606.7" r="1.2" fill="#35423f" stroke="#35a890" stroke-width="0.45"/>
<circle cx="397.1" cy="608.5" r="1.2" fill="#35423f" stroke="#35a890" stroke-width="0.45"/>
<circle cx="391.7" cy="612.1" r="1.2" fill="#35423f" stroke="#35a890" stroke-width="0.45"/>
<circle cx="394.9" cy="612.8" r="1.2" fill="#35423f" stroke="#35a890" stroke-width="0.45"/>
<circle cx="398.2" cy="613.9" r="1.2" fill="#35423f" stroke="#35a890" stroke-width="0.45"/>
<circle cx="401.9" cy="616.0" r="1.2" fill="#35423f" stroke="#35a890" stroke-width="0.45"/>
<circle cx="393.4" cy="620.4" r="1.2" fill="#35423f" stroke="#35a890" stroke-width="0.45"/>
<circle cx="393.8" cy="634.9" r="1.2" fill="#35423f" stroke="#35a890" stroke-width="0.45"/>
<circle cx="397.1" cy="637.1" r="1.2" fill="#35423f" stroke="#35a890" stroke-width="0.45"/>
<circle cx="392.8" cy="641.4" r="1.2" fill="#35423f" stroke="#35a890" stroke-width="0.45"/>
<circle cx="430.7" cy="563.4" r="1.2" fill="#4f3c34" stroke="#e07038" stroke-width="0.45"/>
<circle cx="428.1" cy="569.9" r="1.2" fill="#4f3c34" stroke="#e07038" stroke-width="0.45"/>
<circle cx="432.2" cy="587.6" r="1.2" fill="#4f3c34" stroke="#e07038" stroke-width="0.45"/>
<circle cx="433.3" cy="590.0" r="1.2" fill="#4f3c34" stroke="#e07038" stroke-width="0.45"/>
<circle cx="431.1" cy="595.4" r="1.2" fill="#4f3c34" stroke="#e07038" stroke-width="0.45"/>
<circle cx="426.8" cy="597.6" r="1.2" fill="#4f3c34" stroke="#e07038" stroke-width="0.45"/>
<circle cx="429.0" cy="600.2" r="1.2" fill="#4f3c34" stroke="#e07038" stroke-width="0.45"/>
<circle cx="436.1" cy="601.3" r="1.2" fill="#4f3c34" stroke="#e07038" stroke-width="0.45"/>
<circle cx="430.7" cy="602.8" r="1.2" fill="#4f3c34" stroke="#e07038" stroke-width="0.45"/>
<circle cx="429.0" cy="615.4" r="1.2" fill="#4f3c34" stroke="#e07038" stroke-width="0.45"/>
<circle cx="424.2" cy="619.7" r="1.2" fill="#4f3c34" stroke="#e07038" stroke-width="0.45"/>
<circle cx="431.8" cy="620.8" r="1.2" fill="#4f3c34" stroke="#e07038" stroke-width="0.45"/>
<circle cx="435.0" cy="622.3" r="1.2" fill="#4f3c34" stroke="#e07038" stroke-width="0.45"/>
<circle cx="437.6" cy="621.2" r="1.2" fill="#4f3c34" stroke="#e07038" stroke-width="0.45"/>
<circle cx="429.0" cy="625.8" r="1.2" fill="#4f3c34" stroke="#e07038" stroke-width="0.45"/>
<circle cx="432.2" cy="626.2" r="1.2" fill="#4f3c34" stroke="#e07038" stroke-width="0.45"/>
<circle cx="433.3" cy="629.0" r="1.2" fill="#4f3c34" stroke="#e07038" stroke-width="0.45"/>
<circle cx="426.8" cy="634.9" r="1.2" fill="#4f3c34" stroke="#e07038" stroke-width="0.45"/>
<circle cx="429.0" cy="648.3" r="1.2" fill="#4f3c34" stroke="#e07038" stroke-width="0.45"/>
<circle cx="464.3" cy="565.1" r="1.2" fill="#383b47" stroke="#6d7ab0" stroke-width="0.45"/>
<circle cx="468.2" cy="577.9" r="1.2" fill="#383b47" stroke="#6d7ab0" stroke-width="0.45"/>
<circle cx="463.8" cy="591.5" r="1.2" fill="#383b47" stroke="#6d7ab0" stroke-width="0.45"/>
<circle cx="467.1" cy="591.1" r="1.2" fill="#383b47" stroke="#6d7ab0" stroke-width="0.45"/>
<circle cx="462.8" cy="594.1" r="1.2" fill="#383b47" stroke="#6d7ab0" stroke-width="0.45"/>
<circle cx="467.8" cy="595.2" r="1.2" fill="#383b47" stroke="#6d7ab0" stroke-width="0.45"/>
<circle cx="467.8" cy="603.5" r="1.2" fill="#383b47" stroke="#6d7ab0" stroke-width="0.45"/>
<circle cx="457.3" cy="608.9" r="1.2" fill="#383b47" stroke="#6d7ab0" stroke-width="0.45"/>
<circle cx="461.7" cy="612.1" r="1.2" fill="#383b47" stroke="#6d7ab0" stroke-width="0.45"/>
<circle cx="466.4" cy="612.1" r="1.2" fill="#383b47" stroke="#6d7ab0" stroke-width="0.45"/>
<circle cx="469.3" cy="611.1" r="1.2" fill="#383b47" stroke="#6d7ab0" stroke-width="0.45"/>
<circle cx="458.4" cy="613.7" r="1.2" fill="#383b47" stroke="#6d7ab0" stroke-width="0.45"/>
<circle cx="461.7" cy="615.4" r="1.2" fill="#383b47" stroke="#6d7ab0" stroke-width="0.45"/>
<circle cx="465.6" cy="615.4" r="1.2" fill="#383b47" stroke="#6d7ab0" stroke-width="0.45"/>
<circle cx="469.3" cy="615.4" r="1.2" fill="#383b47" stroke="#6d7ab0" stroke-width="0.45"/>
<circle cx="457.3" cy="617.6" r="1.2" fill="#383b47" stroke="#6d7ab0" stroke-width="0.45"/>
<circle cx="468.2" cy="618.0" r="1.2" fill="#383b47" stroke="#6d7ab0" stroke-width="0.45"/>
<circle cx="462.8" cy="619.7" r="1.2" fill="#383b47" stroke="#6d7ab0" stroke-width="0.45"/>
<circle cx="469.3" cy="620.8" r="1.2" fill="#383b47" stroke="#6d7ab0" stroke-width="0.45"/>
<circle cx="460.6" cy="625.2" r="1.2" fill="#383b47" stroke="#6d7ab0" stroke-width="0.45"/>
<circle cx="463.8" cy="632.3" r="1.2" fill="#383b47" stroke="#6d7ab0" stroke-width="0.45"/>
<circle cx="463.8" cy="641.4" r="1.2" fill="#383b47" stroke="#6d7ab0" stroke-width="0.45"/>
<circle cx="466.0" cy="645.3" r="1.2" fill="#383b47" stroke="#6d7ab0" stroke-width="0.45"/>
<circle cx="495.2" cy="530.8" r="1.2" fill="#4a3e47" stroke="#ea6cba" stroke-width="0.45"/>
<circle cx="502.9" cy="531.7" r="1.2" fill="#4a3e47" stroke="#ea6cba" stroke-width="0.45"/>
<circle cx="497.4" cy="543.8" r="1.2" fill="#4a3e47" stroke="#ea6cba" stroke-width="0.45"/>
<circle cx="501.0" cy="546.0" r="1.2" fill="#4a3e47" stroke="#ea6cba" stroke-width="0.45"/>
<circle cx="490.3" cy="550.9" r="1.2" fill="#4a3e47" stroke="#ea6cba" stroke-width="0.45"/>
<circle cx="493.6" cy="550.9" r="1.2" fill="#4a3e47" stroke="#ea6cba" stroke-width="0.45"/>
<circle cx="502.9" cy="550.9" r="1.2" fill="#4a3e47" stroke="#ea6cba" stroke-width="0.45"/>
<circle cx="490.3" cy="553.5" r="1.2" fill="#4a3e47" stroke="#ea6cba" stroke-width="0.45"/>
<circle cx="501.8" cy="553.1" r="1.2" fill="#4a3e47" stroke="#ea6cba" stroke-width="0.45"/>
<circle cx="495.8" cy="556.7" r="1.2" fill="#4a3e47" stroke="#ea6cba" stroke-width="0.45"/>
<circle cx="500.7" cy="562.2" r="1.2" fill="#4a3e47" stroke="#ea6cba" stroke-width="0.45"/>
<circle cx="501.0" cy="568.8" r="1.2" fill="#4a3e47" stroke="#ea6cba" stroke-width="0.45"/>
<circle cx="495.6" cy="569.6" r="1.2" fill="#4a3e47" stroke="#ea6cba" stroke-width="0.45"/>
<circle cx="490.3" cy="574.3" r="1.2" fill="#4a3e47" stroke="#ea6cba" stroke-width="0.45"/>
<circle cx="493.6" cy="574.5" r="1.2" fill="#4a3e47" stroke="#ea6cba" stroke-width="0.45"/>
<circle cx="496.3" cy="574.8" r="1.2" fill="#4a3e47" stroke="#ea6cba" stroke-width="0.45"/>
<circle cx="498.5" cy="575.1" r="1.2" fill="#4a3e47" stroke="#ea6cba" stroke-width="0.45"/>
<circle cx="501.3" cy="575.1" r="1.2" fill="#4a3e47" stroke="#ea6cba" stroke-width="0.45"/>
<circle cx="490.8" cy="580.6" r="1.2" fill="#4a3e47" stroke="#ea6cba" stroke-width="0.45"/>
<circle cx="492.5" cy="582.2" r="1.2" fill="#4a3e47" stroke="#ea6cba" stroke-width="0.45"/>
<circle cx="497.4" cy="580.6" r="1.2" fill="#4a3e47" stroke="#ea6cba" stroke-width="0.45"/>
<circle cx="499.6" cy="581.1" r="1.2" fill="#4a3e47" stroke="#ea6cba" stroke-width="0.45"/>
<circle cx="501.8" cy="579.0" r="1.2" fill="#4a3e47" stroke="#ea6cba" stroke-width="0.45"/>
<circle cx="502.4" cy="582.2" r="1.2" fill="#4a3e47" stroke="#ea6cba" stroke-width="0.45"/>
<circle cx="499.6" cy="584.2" r="1.2" fill="#4a3e47" stroke="#ea6cba" stroke-width="0.45"/>
<circle cx="490.8" cy="590.0" r="1.2" fill="#4a3e47" stroke="#ea6cba" stroke-width="0.45"/>
<circle cx="493.6" cy="590.0" r="1.2" fill="#4a3e47" stroke="#ea6cba" stroke-width="0.45"/>
<circle cx="496.3" cy="590.0" r="1.2" fill="#4a3e47" stroke="#ea6cba" stroke-width="0.45"/>
<circle cx="495.8" cy="592.7" r="1.2" fill="#4a3e47" stroke="#ea6cba" stroke-width="0.45"/>
<circle cx="502.7" cy="594.0" r="1.2" fill="#4a3e47" stroke="#ea6cba" stroke-width="0.45"/>
<circle cx="491.4" cy="595.4" r="1.2" fill="#4a3e47" stroke="#ea6cba" stroke-width="0.45"/>
<circle cx="493.6" cy="596.5" r="1.2" fill="#4a3e47" stroke="#ea6cba" stroke-width="0.45"/>
<circle cx="498.5" cy="597.1" r="1.2" fill="#4a3e47" stroke="#ea6cba" stroke-width="0.45"/>
<circle cx="492.5" cy="598.7" r="1.2" fill="#4a3e47" stroke="#ea6cba" stroke-width="0.45"/>
<circle cx="495.8" cy="598.2" r="1.2" fill="#4a3e47" stroke="#ea6cba" stroke-width="0.45"/>
<circle cx="499.6" cy="599.3" r="1.2" fill="#4a3e47" stroke="#ea6cba" stroke-width="0.45"/>
<circle cx="491.4" cy="601.3" r="1.2" fill="#4a3e47" stroke="#ea6cba" stroke-width="0.45"/>
<circle cx="494.1" cy="601.5" r="1.2" fill="#4a3e47" stroke="#ea6cba" stroke-width="0.45"/>
<circle cx="496.9" cy="601.5" r="1.2" fill="#4a3e47" stroke="#ea6cba" stroke-width="0.45"/>
<circle cx="500.7" cy="601.3" r="1.2" fill="#4a3e47" stroke="#ea6cba" stroke-width="0.45"/>
<circle cx="495.8" cy="603.7" r="1.2" fill="#4a3e47" stroke="#ea6cba" stroke-width="0.45"/>
<circle cx="498.0" cy="604.6" r="1.2" fill="#4a3e47" stroke="#ea6cba" stroke-width="0.45"/>
<circle cx="492.5" cy="605.9" r="1.2" fill="#4a3e47" stroke="#ea6cba" stroke-width="0.45"/>
<circle cx="494.7" cy="607.0" r="1.2" fill="#4a3e47" stroke="#ea6cba" stroke-width="0.45"/>
<circle cx="497.4" cy="607.5" r="1.2" fill="#4a3e47" stroke="#ea6cba" stroke-width="0.45"/>
<circle cx="502.4" cy="608.6" r="1.2" fill="#4a3e47" stroke="#ea6cba" stroke-width="0.45"/>
<circle cx="495.8" cy="609.7" r="1.2" fill="#4a3e47" stroke="#ea6cba" stroke-width="0.45"/>
<circle cx="501.8" cy="610.8" r="1.2" fill="#4a3e47" stroke="#ea6cba" stroke-width="0.45"/>
<circle cx="499.6" cy="611.9" r="1.2" fill="#4a3e47" stroke="#ea6cba" stroke-width="0.45"/>
<circle cx="491.4" cy="613.4" r="1.2" fill="#4a3e47" stroke="#ea6cba" stroke-width="0.45"/>
<circle cx="493.6" cy="614.5" r="1.2" fill="#4a3e47" stroke="#ea6cba" stroke-width="0.45"/>
<circle cx="500.2" cy="614.5" r="1.2" fill="#4a3e47" stroke="#ea6cba" stroke-width="0.45"/>
<circle cx="502.4" cy="614.7" r="1.2" fill="#4a3e47" stroke="#ea6cba" stroke-width="0.45"/>
<circle cx="495.8" cy="615.8" r="1.2" fill="#4a3e47" stroke="#ea6cba" stroke-width="0.45"/>
<circle cx="492.5" cy="616.9" r="1.2" fill="#4a3e47" stroke="#ea6cba" stroke-width="0.45"/>
<circle cx="494.7" cy="618.0" r="1.2" fill="#4a3e47" stroke="#ea6cba" stroke-width="0.45"/>
<circle cx="493.0" cy="619.6" r="1.2" fill="#4a3e47" stroke="#ea6cba" stroke-width="0.45"/>
<circle cx="489.7" cy="620.7" r="1.2" fill="#4a3e47" stroke="#ea6cba" stroke-width="0.45"/>
<circle cx="501.3" cy="620.4" r="1.2" fill="#4a3e47" stroke="#ea6cba" stroke-width="0.45"/>
<circle cx="499.6" cy="621.3" r="1.2" fill="#4a3e47" stroke="#ea6cba" stroke-width="0.45"/>
<circle cx="494.1" cy="625.7" r="1.2" fill="#4a3e47" stroke="#ea6cba" stroke-width="0.45"/>
<circle cx="496.3" cy="626.5" r="1.2" fill="#4a3e47" stroke="#ea6cba" stroke-width="0.45"/>
<circle cx="501.3" cy="630.9" r="1.2" fill="#4a3e47" stroke="#ea6cba" stroke-width="0.45"/>
<circle cx="495.8" cy="632.8" r="1.2" fill="#4a3e47" stroke="#ea6cba" stroke-width="0.45"/>
<circle cx="490.3" cy="633.1" r="1.2" fill="#4a3e47" stroke="#ea6cba" stroke-width="0.45"/>
<circle cx="502.9" cy="633.1" r="1.2" fill="#4a3e47" stroke="#ea6cba" stroke-width="0.45"/>
<circle cx="493.6" cy="633.9" r="1.2" fill="#4a3e47" stroke="#ea6cba" stroke-width="0.45"/>
<circle cx="491.4" cy="636.1" r="1.2" fill="#4a3e47" stroke="#ea6cba" stroke-width="0.45"/>
<circle cx="501.8" cy="637.7" r="1.2" fill="#4a3e47" stroke="#ea6cba" stroke-width="0.45"/>
<circle cx="502.7" cy="639.4" r="1.2" fill="#4a3e47" stroke="#ea6cba" stroke-width="0.45"/>
<circle cx="500.7" cy="641.0" r="1.2" fill="#4a3e47" stroke="#ea6cba" stroke-width="0.45"/>
<circle cx="491.4" cy="644.7" r="1.2" fill="#4a3e47" stroke="#ea6cba" stroke-width="0.45"/>
<circle cx="501.8" cy="644.7" r="1.2" fill="#4a3e47" stroke="#ea6cba" stroke-width="0.45"/>
<circle cx="499.6" cy="646.5" r="1.2" fill="#4a3e47" stroke="#ea6cba" stroke-width="0.45"/>
<circle cx="498.0" cy="647.6" r="1.2" fill="#4a3e47" stroke="#ea6cba" stroke-width="0.45"/>
<circle cx="495.8" cy="650.9" r="1.2" fill="#4a3e47" stroke="#ea6cba" stroke-width="0.45"/>
<circle cx="498.5" cy="651.3" r="1.2" fill="#4a3e47" stroke="#ea6cba" stroke-width="0.45"/>
<circle cx="495.2" cy="656.4" r="1.2" fill="#4a3e47" stroke="#ea6cba" stroke-width="0.45"/>
<circle cx="498.5" cy="620.0" r="1.2" fill="#4a3e47" stroke="#ea6cba" stroke-width="0.45"/>
<circle cx="500.2" cy="608.7" r="1.2" fill="#4a3e47" stroke="#ea6cba" stroke-width="0.45"/>
<circle cx="491.9" cy="615.2" r="1.2" fill="#4a3e47" stroke="#ea6cba" stroke-width="0.45"/>
<circle cx="491.9" cy="597.9" r="1.2" fill="#4a3e47" stroke="#ea6cba" stroke-width="0.45"/>
<circle cx="490.3" cy="618.6" r="1.2" fill="#4a3e47" stroke="#ea6cba" stroke-width="0.45"/>
<circle cx="495.2" cy="585.4" r="1.2" fill="#4a3e47" stroke="#ea6cba" stroke-width="0.45"/>
<circle cx="500.2" cy="599.9" r="1.2" fill="#4a3e47" stroke="#ea6cba" stroke-width="0.45"/>
<circle cx="495.2" cy="587.4" r="1.2" fill="#4a3e47" stroke="#ea6cba" stroke-width="0.45"/>
<circle cx="500.2" cy="586.2" r="1.2" fill="#4a3e47" stroke="#ea6cba" stroke-width="0.45"/>
<circle cx="491.9" cy="620.0" r="1.2" fill="#4a3e47" stroke="#ea6cba" stroke-width="0.45"/>
<circle cx="490.3" cy="605.9" r="1.2" fill="#4a3e47" stroke="#ea6cba" stroke-width="0.45"/>
<circle cx="500.2" cy="585.9" r="1.2" fill="#4a3e47" stroke="#ea6cba" stroke-width="0.45"/>
</svg></body></html>
